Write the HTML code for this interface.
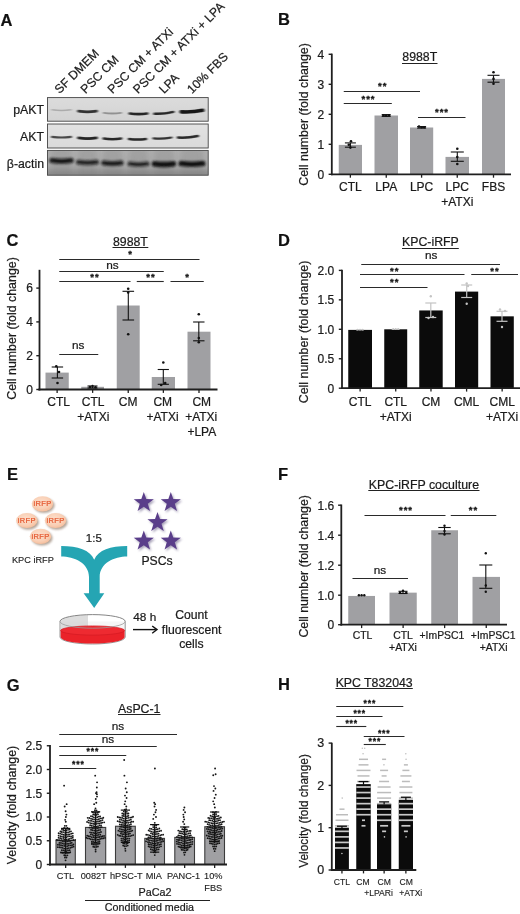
<!DOCTYPE html><html><head><meta charset="utf-8"><title>Figure</title>
<style>html,body{margin:0;padding:0;background:#fff}svg{display:block;filter:blur(0.3px);font-family:"Liberation Sans", sans-serif}text{stroke:#222;stroke-width:0.22px;paint-order:stroke}</style></head><body>
<svg width="520" height="914" viewBox="0 0 520 914">
<defs>
<filter id="b1" filterUnits="userSpaceOnUse" x="40" y="90" width="180" height="95"><feGaussianBlur stdDeviation="0.9 0.55"/></filter>
<filter id="b3" filterUnits="userSpaceOnUse" x="40" y="90" width="180" height="95"><feGaussianBlur stdDeviation="1.2 0.95"/></filter>
<filter id="b2" x="-20%" y="-100%" width="140%" height="300%"><feGaussianBlur stdDeviation="2.5 2.2"/></filter>
<filter id="sh" x="-30%" y="-30%" width="170%" height="170%"><feGaussianBlur stdDeviation="1.0"/></filter>
<filter id="soft"><feGaussianBlur stdDeviation="0.35"/></filter>
<linearGradient id="ga" x1="0" y1="0" x2="0" y2="1"><stop offset="0" stop-color="#dcdcdc"/><stop offset="1" stop-color="#d2d2d2"/></linearGradient>
<linearGradient id="gb" x1="0" y1="0" x2="0" y2="1"><stop offset="0" stop-color="#e2e2e2"/><stop offset="1" stop-color="#dadada"/></linearGradient>
<linearGradient id="gc" x1="0" y1="0" x2="0" y2="1"><stop offset="0" stop-color="#b0b0b0"/><stop offset="0.6" stop-color="#a9a9a9"/><stop offset="1" stop-color="#a0a0a0"/></linearGradient>
<radialGradient id="cell" cx="0.45" cy="0.4" r="0.7"><stop offset="0" stop-color="#fde0cd"/><stop offset="0.6" stop-color="#f9cfb5"/><stop offset="1" stop-color="#f3b691"/></radialGradient>
</defs>
<rect width="520" height="914" fill="#fff"/>
<text x="0.5" y="26" font-size="16.5" text-anchor="start" font-weight="bold" fill="#111">A</text>
<text x="278" y="25" font-size="16.5" text-anchor="start" font-weight="bold" fill="#111">B</text>
<text x="6.5" y="245.8" font-size="16.5" text-anchor="start" font-weight="bold" fill="#111">C</text>
<text x="278" y="245.5" font-size="16.5" text-anchor="start" font-weight="bold" fill="#111">D</text>
<text x="7" y="480" font-size="16.5" text-anchor="start" font-weight="bold" fill="#111">E</text>
<text x="278" y="480" font-size="16.5" text-anchor="start" font-weight="bold" fill="#111">F</text>
<text x="6.8" y="690.6" font-size="16.5" text-anchor="start" font-weight="bold" fill="#111">G</text>
<text x="278" y="689.6" font-size="16.5" text-anchor="start" font-weight="bold" fill="#111">H</text>
<g id="A">
<text transform="translate(59.6,94.3) rotate(-45)" font-size="12.3" fill="#1a1a1a">SF DMEM</text>
<text transform="translate(85.6,94.3) rotate(-45)" font-size="12.3" fill="#1a1a1a">PSC CM</text>
<text transform="translate(112.6,94.3) rotate(-45)" font-size="12.3" fill="#1a1a1a">PSC CM + ATXi</text>
<text transform="translate(138.1,94.3) rotate(-45)" font-size="12.3" fill="#1a1a1a">PSC CM + ATXi + LPA</text>
<text transform="translate(164.1,94.3) rotate(-45)" font-size="12.3" fill="#1a1a1a">LPA</text>
<text transform="translate(192.1,94.3) rotate(-45)" font-size="12.3" fill="#1a1a1a">10% FBS</text>
<text x="44" y="114" font-size="12.3" text-anchor="end" fill="#1a1a1a">pAKT</text>
<text x="44" y="140.5" font-size="12.3" text-anchor="end" fill="#1a1a1a">AKT</text>
<text x="44" y="167.5" font-size="12.3" text-anchor="end" fill="#1a1a1a">β-actin</text>
<clipPath id="cp0"><rect x="47.5" y="97.6" width="160.7" height="23.60000000000001"/></clipPath>
<rect x="47.50" y="97.60" width="160.70" height="23.60" fill="url(#ga)"/>
<g clip-path="url(#cp0)">
<path d="M52.0,109.80 Q61.5,111.20 71.0,109.80" fill="none" stroke="#141414" stroke-width="1.40" stroke-linecap="round" opacity="0.22" filter="url(#b1)"/>
<path d="M78.5,111.10 Q87.5,112.50 96.5,111.10" fill="none" stroke="#141414" stroke-width="2.70" stroke-linecap="round" opacity="0.85" filter="url(#b1)"/>
<path d="M103.7,112.80 Q112.4,114.20 121.1,112.80" fill="none" stroke="#141414" stroke-width="1.80" stroke-linecap="round" opacity="0.35" filter="url(#b1)"/>
<path d="M129.8,113.50 Q138.5,114.90 147.2,113.50" fill="none" stroke="#141414" stroke-width="2.70" stroke-linecap="round" opacity="0.92" filter="url(#b1)"/>
<path d="M154.5,113.70 Q163.9,114.20 173.3,111.90" fill="none" stroke="#141414" stroke-width="2.50" stroke-linecap="round" opacity="0.90" filter="url(#b1)"/>
<path d="M181.2,111.90 Q191.9,112.50 202.7,110.30" fill="none" stroke="#141414" stroke-width="3.60" stroke-linecap="round" opacity="1.00" filter="url(#b1)"/>
</g>
<rect x="47.5" y="97.6" width="160.7" height="23.60000000000001" fill="none" stroke="#444" stroke-width="0.9"/>
<clipPath id="cp1"><rect x="47.5" y="124" width="160.7" height="24"/></clipPath>
<rect x="47.50" y="124.00" width="160.70" height="24.00" fill="url(#gb)"/>
<g clip-path="url(#cp1)">
<path d="M52.0,136.80 Q61.5,138.20 71.0,136.80" fill="none" stroke="#141414" stroke-width="2.20" stroke-linecap="round" opacity="0.75" filter="url(#b1)"/>
<path d="M78.5,137.90 Q87.5,139.30 96.5,137.90" fill="none" stroke="#141414" stroke-width="2.70" stroke-linecap="round" opacity="0.92" filter="url(#b1)"/>
<path d="M103.7,138.50 Q112.4,139.90 121.1,138.50" fill="none" stroke="#141414" stroke-width="2.50" stroke-linecap="round" opacity="0.90" filter="url(#b1)"/>
<path d="M129.0,138.90 Q137.5,140.30 146.0,138.90" fill="none" stroke="#141414" stroke-width="2.50" stroke-linecap="round" opacity="0.90" filter="url(#b1)"/>
<path d="M153.5,138.30 Q162.5,139.30 171.5,137.50" fill="none" stroke="#141414" stroke-width="2.20" stroke-linecap="round" opacity="0.85" filter="url(#b1)"/>
<path d="M178.0,137.60 Q187.9,138.20 197.8,136.00" fill="none" stroke="#141414" stroke-width="2.50" stroke-linecap="round" opacity="0.90" filter="url(#b1)"/>
</g>
<rect x="47.5" y="124" width="160.7" height="24" fill="none" stroke="#444" stroke-width="0.9"/>
<clipPath id="cp2"><rect x="47.5" y="150.4" width="160.7" height="24.799999999999983"/></clipPath>
<rect x="47.50" y="150.40" width="160.70" height="24.80" fill="url(#gc)"/>
<g clip-path="url(#cp2)">
<rect x="51.5" y="148.4" width="20.0" height="28.799999999999983" fill="#808080" opacity="0.28" filter="url(#b2)"/>
<rect x="78" y="148.4" width="19" height="28.799999999999983" fill="#808080" opacity="0.28" filter="url(#b2)"/>
<rect x="103.2" y="148.4" width="18.39999999999999" height="28.799999999999983" fill="#808080" opacity="0.28" filter="url(#b2)"/>
<rect x="129.3" y="148.4" width="18.399999999999977" height="28.799999999999983" fill="#808080" opacity="0.28" filter="url(#b2)"/>
<rect x="154" y="148.4" width="19.80000000000001" height="28.799999999999983" fill="#808080" opacity="0.28" filter="url(#b2)"/>
<rect x="180.7" y="148.4" width="22.5" height="28.799999999999983" fill="#808080" opacity="0.28" filter="url(#b2)"/>
<rect x="42.5" y="170.2" width="170.7" height="9" fill="#707070" opacity="0.4" filter="url(#b2)"/>
<path d="M52.0,160.50 Q61.5,161.90 71.0,160.50" fill="none" stroke="#141414" stroke-width="5.60" stroke-linecap="round" opacity="0.85" filter="url(#b3)"/>
<path d="M53.0,160.50 Q61.5,161.90 70.0,160.50" fill="none" stroke="#101010" stroke-width="2.0" stroke-linecap="round" opacity="0.51" filter="url(#b1)"/>
<path d="M78.5,162.10 Q87.5,163.50 96.5,162.10" fill="none" stroke="#141414" stroke-width="5.20" stroke-linecap="round" opacity="0.72" filter="url(#b3)"/>
<path d="M79.5,162.10 Q87.5,163.50 95.5,162.10" fill="none" stroke="#101010" stroke-width="2.0" stroke-linecap="round" opacity="0.43" filter="url(#b1)"/>
<path d="M103.7,162.90 Q112.4,164.30 121.1,162.90" fill="none" stroke="#141414" stroke-width="5.20" stroke-linecap="round" opacity="0.80" filter="url(#b3)"/>
<path d="M104.7,162.90 Q112.4,164.30 120.1,162.90" fill="none" stroke="#101010" stroke-width="2.0" stroke-linecap="round" opacity="0.48" filter="url(#b1)"/>
<path d="M129.8,163.80 Q138.5,165.20 147.2,163.80" fill="none" stroke="#141414" stroke-width="5.00" stroke-linecap="round" opacity="0.70" filter="url(#b3)"/>
<path d="M130.8,163.80 Q138.5,165.20 146.2,163.80" fill="none" stroke="#101010" stroke-width="2.0" stroke-linecap="round" opacity="0.42" filter="url(#b1)"/>
<path d="M154.5,163.80 Q163.9,165.20 173.3,163.80" fill="none" stroke="#141414" stroke-width="5.80" stroke-linecap="round" opacity="0.95" filter="url(#b3)"/>
<path d="M155.5,163.80 Q163.9,165.20 172.3,163.80" fill="none" stroke="#101010" stroke-width="2.0" stroke-linecap="round" opacity="0.57" filter="url(#b1)"/>
<path d="M181.2,163.50 Q191.9,164.90 202.7,163.50" fill="none" stroke="#141414" stroke-width="5.60" stroke-linecap="round" opacity="0.95" filter="url(#b3)"/>
<path d="M182.2,163.50 Q191.9,164.90 201.7,163.50" fill="none" stroke="#101010" stroke-width="2.0" stroke-linecap="round" opacity="0.57" filter="url(#b1)"/>
</g>
<rect x="47.5" y="150.4" width="160.7" height="24.799999999999983" fill="none" stroke="#444" stroke-width="0.9"/>
</g>
<g id="B">
<text x="419.75" y="61.2" font-size="12.3" text-anchor="middle" fill="#1a1a1a">8988T</text>
<line x1="402" y1="63.5" x2="437.5" y2="63.5" stroke="#222" stroke-width="1.0"/>
<rect x="338.75" y="144.90" width="23.25" height="29.40" fill="#a0a0a3"/>
<rect x="374.50" y="115.50" width="23.50" height="58.80" fill="#a0a0a3"/>
<rect x="410.00" y="127.50" width="23.20" height="46.80" fill="#a0a0a3"/>
<rect x="445.50" y="156.90" width="23.50" height="17.40" fill="#a0a0a3"/>
<rect x="482.00" y="78.90" width="23.00" height="95.40" fill="#a0a0a3"/>
<line x1="331.8" y1="53.60000000000001" x2="331.8" y2="175.20000000000002" stroke="#1f1f1f" stroke-width="1.8"/>
<line x1="328.59999999999997" y1="174.3" x2="331.8" y2="174.3" stroke="#1f1f1f" stroke-width="1.4"/>
<text x="324.1" y="178.60000000000002" font-size="12" text-anchor="end" fill="#1a1a1a">0</text>
<line x1="328.59999999999997" y1="144.3" x2="331.8" y2="144.3" stroke="#1f1f1f" stroke-width="1.4"/>
<text x="324.1" y="148.60000000000002" font-size="12" text-anchor="end" fill="#1a1a1a">1</text>
<line x1="328.59999999999997" y1="114.30000000000001" x2="331.8" y2="114.30000000000001" stroke="#1f1f1f" stroke-width="1.4"/>
<text x="324.1" y="118.60000000000001" font-size="12" text-anchor="end" fill="#1a1a1a">2</text>
<line x1="328.59999999999997" y1="84.30000000000001" x2="331.8" y2="84.30000000000001" stroke="#1f1f1f" stroke-width="1.4"/>
<text x="324.1" y="88.60000000000001" font-size="12" text-anchor="end" fill="#1a1a1a">3</text>
<line x1="328.59999999999997" y1="54.30000000000001" x2="331.8" y2="54.30000000000001" stroke="#1f1f1f" stroke-width="1.4"/>
<text x="324.1" y="58.60000000000001" font-size="12" text-anchor="end" fill="#1a1a1a">4</text>
<line x1="330.90000000000003" y1="174.3" x2="511" y2="174.3" stroke="#1f1f1f" stroke-width="1.8"/>
<line x1="350.375" y1="174.3" x2="350.375" y2="177.70000000000002" stroke="#1f1f1f" stroke-width="1.3"/>
<line x1="386.25" y1="174.3" x2="386.25" y2="177.70000000000002" stroke="#1f1f1f" stroke-width="1.3"/>
<line x1="421.6" y1="174.3" x2="421.6" y2="177.70000000000002" stroke="#1f1f1f" stroke-width="1.3"/>
<line x1="457.25" y1="174.3" x2="457.25" y2="177.70000000000002" stroke="#1f1f1f" stroke-width="1.3"/>
<line x1="493.5" y1="174.3" x2="493.5" y2="177.70000000000002" stroke="#1f1f1f" stroke-width="1.3"/>
<text transform="translate(307.5,114.5) rotate(-90)" font-size="12.4" text-anchor="middle" fill="#1a1a1a">Cell number (fold change)</text>
<line x1="350.4" y1="142.9" x2="350.4" y2="147.2" stroke="#111" stroke-width="1.1"/>
<line x1="344.9" y1="142.9" x2="355.9" y2="142.9" stroke="#111" stroke-width="1.1"/>
<line x1="344.9" y1="147.2" x2="355.9" y2="147.2" stroke="#111" stroke-width="1.1"/>
<circle cx="351.00" cy="141.20" r="1.3" fill="#111"/>
<circle cx="348.80" cy="144.80" r="1.3" fill="#111"/>
<circle cx="350.40" cy="147.60" r="1.3" fill="#111"/>
<line x1="386.2" y1="114.60000000000001" x2="386.2" y2="116.4" stroke="#111" stroke-width="1.1"/>
<line x1="381.7" y1="114.60000000000001" x2="390.7" y2="114.60000000000001" stroke="#111" stroke-width="1.1"/>
<line x1="381.7" y1="116.4" x2="390.7" y2="116.4" stroke="#111" stroke-width="1.1"/>
<circle cx="383.50" cy="115.20" r="1.3" fill="#111"/>
<circle cx="386.20" cy="115.80" r="1.3" fill="#111"/>
<circle cx="389.00" cy="115.20" r="1.3" fill="#111"/>
<line x1="421.6" y1="126.60000000000001" x2="421.6" y2="128.10000000000002" stroke="#111" stroke-width="1.1"/>
<line x1="417.1" y1="126.60000000000001" x2="426.1" y2="126.60000000000001" stroke="#111" stroke-width="1.1"/>
<line x1="417.1" y1="128.10000000000002" x2="426.1" y2="128.10000000000002" stroke="#111" stroke-width="1.1"/>
<circle cx="419.00" cy="126.60" r="1.3" fill="#111"/>
<circle cx="421.60" cy="127.20" r="1.3" fill="#111"/>
<circle cx="424.30" cy="127.20" r="1.3" fill="#111"/>
<line x1="457.3" y1="152" x2="457.3" y2="161.3" stroke="#111" stroke-width="1.1"/>
<line x1="450.8" y1="152" x2="463.8" y2="152" stroke="#111" stroke-width="1.1"/>
<line x1="450.8" y1="161.3" x2="463.8" y2="161.3" stroke="#111" stroke-width="1.1"/>
<circle cx="457.30" cy="148.70" r="1.3" fill="#111"/>
<circle cx="457.30" cy="157.00" r="1.3" fill="#111"/>
<circle cx="457.30" cy="164.00" r="1.3" fill="#111"/>
<line x1="493.5" y1="75.30000000000001" x2="493.5" y2="82.20000000000002" stroke="#111" stroke-width="1.1"/>
<line x1="487.5" y1="75.30000000000001" x2="499.5" y2="75.30000000000001" stroke="#111" stroke-width="1.1"/>
<line x1="487.5" y1="82.20000000000002" x2="499.5" y2="82.20000000000002" stroke="#111" stroke-width="1.1"/>
<circle cx="493.50" cy="72.30" r="1.3" fill="#111"/>
<circle cx="493.50" cy="78.90" r="1.3" fill="#111"/>
<circle cx="493.50" cy="83.70" r="1.3" fill="#111"/>
<line x1="343.75" y1="91.5" x2="420" y2="91.5" stroke="#2a2a2a" stroke-width="1.1"/>
<text x="382.69874999999996" y="89.3" font-size="9.5" text-anchor="middle" font-weight="bold" fill="#111" letter-spacing="1.00" style="stroke-width:0.3px">**</text>
<line x1="343.75" y1="103.5" x2="391.8" y2="103.5" stroke="#2a2a2a" stroke-width="1.1"/>
<text x="368.49875" y="102.1" font-size="9.5" text-anchor="middle" font-weight="bold" fill="#111" letter-spacing="1.00" style="stroke-width:0.3px">***</text>
<line x1="418" y1="117.5" x2="465.5" y2="117.5" stroke="#2a2a2a" stroke-width="1.1"/>
<text x="441.99875" y="115.3" font-size="9.5" text-anchor="middle" font-weight="bold" fill="#111" letter-spacing="1.00" style="stroke-width:0.3px">***</text>
<text x="350.375" y="190.5" font-size="12" text-anchor="middle" fill="#1a1a1a">CTL</text>
<text x="386.25" y="190.5" font-size="12" text-anchor="middle" fill="#1a1a1a">LPA</text>
<text x="421.6" y="190.5" font-size="12" text-anchor="middle" fill="#1a1a1a">LPC</text>
<text x="457.25" y="190.5" font-size="12" text-anchor="middle" fill="#1a1a1a">LPC</text>
<text x="493.5" y="190.5" font-size="12" text-anchor="middle" fill="#1a1a1a">FBS</text>
<text x="457.3" y="206.2" font-size="12" text-anchor="middle" fill="#1a1a1a">+ATXi</text>
</g>
<g id="C">
<text x="130.4" y="245.5" font-size="12.3" text-anchor="middle" fill="#1a1a1a">8988T</text>
<line x1="112.5" y1="247.5" x2="148.3" y2="247.5" stroke="#222" stroke-width="1.0"/>
<rect x="45.50" y="372.60" width="23.25" height="16.90" fill="#a0a0a3"/>
<rect x="81.25" y="386.80" width="22.75" height="2.70" fill="#a0a0a3"/>
<rect x="116.75" y="305.51" width="22.95" height="83.99" fill="#a0a0a3"/>
<rect x="151.75" y="376.99" width="23.25" height="12.51" fill="#a0a0a3"/>
<rect x="187.50" y="331.70" width="23.00" height="57.80" fill="#a0a0a3"/>
<line x1="39.5" y1="269.8" x2="39.5" y2="390.4" stroke="#1f1f1f" stroke-width="1.8"/>
<line x1="36.3" y1="389.5" x2="39.5" y2="389.5" stroke="#1f1f1f" stroke-width="1.4"/>
<text x="32.9" y="393.8" font-size="12" text-anchor="end" fill="#1a1a1a">0</text>
<line x1="36.3" y1="355.7" x2="39.5" y2="355.7" stroke="#1f1f1f" stroke-width="1.4"/>
<text x="32.9" y="360.0" font-size="12" text-anchor="end" fill="#1a1a1a">2</text>
<line x1="36.3" y1="321.9" x2="39.5" y2="321.9" stroke="#1f1f1f" stroke-width="1.4"/>
<text x="32.9" y="326.2" font-size="12" text-anchor="end" fill="#1a1a1a">4</text>
<line x1="36.3" y1="288.1" x2="39.5" y2="288.1" stroke="#1f1f1f" stroke-width="1.4"/>
<text x="32.9" y="292.40000000000003" font-size="12" text-anchor="end" fill="#1a1a1a">6</text>
<line x1="38.4" y1="389.5" x2="217.5" y2="389.5" stroke="#1f1f1f" stroke-width="1.8"/>
<line x1="57.125" y1="389.5" x2="57.125" y2="392.90000000000003" stroke="#1f1f1f" stroke-width="1.3"/>
<line x1="92.625" y1="389.5" x2="92.625" y2="392.90000000000003" stroke="#1f1f1f" stroke-width="1.3"/>
<line x1="128.225" y1="389.5" x2="128.225" y2="392.90000000000003" stroke="#1f1f1f" stroke-width="1.3"/>
<line x1="163.375" y1="389.5" x2="163.375" y2="392.90000000000003" stroke="#1f1f1f" stroke-width="1.3"/>
<line x1="199.0" y1="389.5" x2="199.0" y2="392.90000000000003" stroke="#1f1f1f" stroke-width="1.3"/>
<text transform="translate(16.3,328.5) rotate(-90)" font-size="12.4" text-anchor="middle" fill="#1a1a1a">Cell number (fold change)</text>
<line x1="57.4" y1="367" x2="57.4" y2="378" stroke="#111" stroke-width="1.1"/>
<line x1="51.699999999999996" y1="367" x2="63.1" y2="367" stroke="#111" stroke-width="1.1"/>
<line x1="51.699999999999996" y1="378" x2="63.1" y2="378" stroke="#111" stroke-width="1.1"/>
<circle cx="56.30" cy="366.20" r="1.3" fill="#111"/>
<circle cx="59.00" cy="372.00" r="1.3" fill="#111"/>
<circle cx="57.50" cy="383.00" r="1.3" fill="#111"/>
<line x1="92.5" y1="386" x2="92.5" y2="388" stroke="#111" stroke-width="1.1"/>
<line x1="87.5" y1="386" x2="97.5" y2="386" stroke="#111" stroke-width="1.1"/>
<line x1="87.5" y1="388" x2="97.5" y2="388" stroke="#111" stroke-width="1.1"/>
<circle cx="90.00" cy="387.00" r="1.2" fill="#111"/>
<circle cx="92.50" cy="386.00" r="1.2" fill="#111"/>
<circle cx="95.50" cy="387.30" r="1.2" fill="#111"/>
<line x1="128.3" y1="291.3" x2="128.3" y2="320" stroke="#111" stroke-width="1.1"/>
<line x1="122.50000000000001" y1="291.3" x2="134.10000000000002" y2="291.3" stroke="#111" stroke-width="1.1"/>
<line x1="122.50000000000001" y1="320" x2="134.10000000000002" y2="320" stroke="#111" stroke-width="1.1"/>
<circle cx="128.20" cy="288.70" r="1.3" fill="#111"/>
<circle cx="128.20" cy="292.50" r="1.3" fill="#111"/>
<circle cx="128.20" cy="334.30" r="1.3" fill="#111"/>
<line x1="163.3" y1="369.5" x2="163.3" y2="384.3" stroke="#111" stroke-width="1.1"/>
<line x1="157.70000000000002" y1="369.5" x2="168.9" y2="369.5" stroke="#111" stroke-width="1.1"/>
<line x1="157.70000000000002" y1="384.3" x2="168.9" y2="384.3" stroke="#111" stroke-width="1.1"/>
<circle cx="163.30" cy="362.50" r="1.3" fill="#111"/>
<circle cx="161.20" cy="385.00" r="1.3" fill="#111"/>
<circle cx="165.20" cy="383.00" r="1.3" fill="#111"/>
<line x1="198.8" y1="322" x2="198.8" y2="340.8" stroke="#111" stroke-width="1.1"/>
<line x1="193.10000000000002" y1="322" x2="204.5" y2="322" stroke="#111" stroke-width="1.1"/>
<line x1="193.10000000000002" y1="340.8" x2="204.5" y2="340.8" stroke="#111" stroke-width="1.1"/>
<circle cx="198.80" cy="314.20" r="1.3" fill="#111"/>
<circle cx="198.80" cy="338.00" r="1.3" fill="#111"/>
<circle cx="198.80" cy="342.30" r="1.3" fill="#111"/>
<line x1="59.25" y1="259.5" x2="199.5" y2="259.5" stroke="#2a2a2a" stroke-width="1.1"/>
<text x="130.49875" y="257.3" font-size="9.5" text-anchor="middle" font-weight="bold" fill="#111" letter-spacing="1.00" style="stroke-width:0.3px">*</text>
<line x1="59.25" y1="271.5" x2="163.75" y2="271.5" stroke="#2a2a2a" stroke-width="1.1"/>
<text x="112.5" y="268.5" font-size="11.8" text-anchor="middle" fill="#1a1a1a">ns</text>
<line x1="59.25" y1="281.5" x2="130.5" y2="281.5" stroke="#2a2a2a" stroke-width="1.1"/>
<text x="94.99875" y="279.90000000000003" font-size="9.5" text-anchor="middle" font-weight="bold" fill="#111" letter-spacing="1.00" style="stroke-width:0.3px">**</text>
<line x1="136.75" y1="281.5" x2="163.75" y2="281.5" stroke="#2a2a2a" stroke-width="1.1"/>
<text x="150.99875" y="279.90000000000003" font-size="9.5" text-anchor="middle" font-weight="bold" fill="#111" letter-spacing="1.00" style="stroke-width:0.3px">**</text>
<line x1="170.5" y1="281.5" x2="203.75" y2="281.5" stroke="#2a2a2a" stroke-width="1.1"/>
<text x="187.49875" y="279.90000000000003" font-size="9.5" text-anchor="middle" font-weight="bold" fill="#111" letter-spacing="1.00" style="stroke-width:0.3px">*</text>
<line x1="59.25" y1="354.5" x2="98.25" y2="354.5" stroke="#2a2a2a" stroke-width="1.1"/>
<text x="78.3" y="349.3" font-size="11.8" text-anchor="middle" fill="#1a1a1a">ns</text>
<text x="58.7" y="406.3" font-size="12" text-anchor="middle" fill="#1a1a1a">CTL</text>
<text x="93.1" y="406.3" font-size="12" text-anchor="middle" fill="#1a1a1a">CTL</text>
<text x="128.2" y="406.3" font-size="12" text-anchor="middle" fill="#1a1a1a">CM</text>
<text x="162.8" y="406.3" font-size="12" text-anchor="middle" fill="#1a1a1a">CM</text>
<text x="201.8" y="406.3" font-size="12" text-anchor="middle" fill="#1a1a1a">CM</text>
<text x="93.3" y="421.2" font-size="12" text-anchor="middle" fill="#1a1a1a">+ATXi</text>
<text x="162.5" y="421.2" font-size="12" text-anchor="middle" fill="#1a1a1a">+ATXi</text>
<text x="201.2" y="421.2" font-size="12" text-anchor="middle" fill="#1a1a1a">+ATXi</text>
<text x="201.8" y="435.7" font-size="12" text-anchor="middle" fill="#1a1a1a">+LPA</text>
</g>
<g id="D">
<text x="430.4" y="246.2" font-size="12.3" text-anchor="middle" fill="#1a1a1a">KPC-iRFP</text>
<line x1="402" y1="248.5" x2="458.8" y2="248.5" stroke="#222" stroke-width="1.0"/>
<rect x="348.25" y="329.89" width="23.75" height="58.31" fill="#0b0b0b"/>
<rect x="384.25" y="329.30" width="22.95" height="58.90" fill="#0b0b0b"/>
<rect x="419.25" y="310.45" width="23.45" height="77.75" fill="#0b0b0b"/>
<rect x="455.00" y="291.60" width="23.20" height="96.60" fill="#0b0b0b"/>
<rect x="490.50" y="316.34" width="23.30" height="71.86" fill="#0b0b0b"/>
<line x1="342" y1="269.7" x2="342" y2="389.09999999999997" stroke="#1f1f1f" stroke-width="1.8"/>
<line x1="338.79999999999995" y1="388.2" x2="342" y2="388.2" stroke="#1f1f1f" stroke-width="1.4"/>
<text x="334.3" y="392.5" font-size="12" text-anchor="end" fill="#1a1a1a">0</text>
<line x1="338.79999999999995" y1="358.75" x2="342" y2="358.75" stroke="#1f1f1f" stroke-width="1.4"/>
<text x="334.3" y="363.05" font-size="12" text-anchor="end" fill="#1a1a1a">0.5</text>
<line x1="338.79999999999995" y1="329.3" x2="342" y2="329.3" stroke="#1f1f1f" stroke-width="1.4"/>
<text x="334.3" y="333.6" font-size="12" text-anchor="end" fill="#1a1a1a">1.0</text>
<line x1="338.79999999999995" y1="299.85" x2="342" y2="299.85" stroke="#1f1f1f" stroke-width="1.4"/>
<text x="334.3" y="304.15000000000003" font-size="12" text-anchor="end" fill="#1a1a1a">1.5</text>
<line x1="338.79999999999995" y1="270.4" x2="342" y2="270.4" stroke="#1f1f1f" stroke-width="1.4"/>
<text x="334.3" y="274.7" font-size="12" text-anchor="end" fill="#1a1a1a">2.0</text>
<line x1="341.1" y1="388.2" x2="520" y2="388.2" stroke="#1f1f1f" stroke-width="1.8"/>
<line x1="360.125" y1="388.2" x2="360.125" y2="391.6" stroke="#1f1f1f" stroke-width="1.3"/>
<line x1="395.725" y1="388.2" x2="395.725" y2="391.6" stroke="#1f1f1f" stroke-width="1.3"/>
<line x1="430.975" y1="388.2" x2="430.975" y2="391.6" stroke="#1f1f1f" stroke-width="1.3"/>
<line x1="466.6" y1="388.2" x2="466.6" y2="391.6" stroke="#1f1f1f" stroke-width="1.3"/>
<line x1="502.15" y1="388.2" x2="502.15" y2="391.6" stroke="#1f1f1f" stroke-width="1.3"/>
<text transform="translate(308.3,332) rotate(-90)" font-size="12.4" text-anchor="middle" fill="#1a1a1a">Cell number (fold change)</text>
<line x1="356" y1="329.889" x2="364" y2="329.889" stroke="#c4c4c4" stroke-width="1"/>
<circle cx="357.50" cy="329.59" r="0.9" fill="#c4c4c4"/>
<circle cx="360.00" cy="329.59" r="0.9" fill="#c4c4c4"/>
<circle cx="362.50" cy="329.59" r="0.9" fill="#c4c4c4"/>
<line x1="391.7" y1="329.3" x2="399.7" y2="329.3" stroke="#c4c4c4" stroke-width="1"/>
<circle cx="393.20" cy="329.00" r="0.9" fill="#c4c4c4"/>
<circle cx="395.70" cy="329.00" r="0.9" fill="#c4c4c4"/>
<circle cx="398.20" cy="329.00" r="0.9" fill="#c4c4c4"/>
<line x1="430.8" y1="303" x2="430.8" y2="317.5" stroke="#c4c4c4" stroke-width="1.2"/>
<line x1="425.3" y1="303" x2="436.3" y2="303" stroke="#c4c4c4" stroke-width="1.2"/>
<line x1="425.3" y1="317.5" x2="436.3" y2="317.5" stroke="#c4c4c4" stroke-width="1.2"/>
<circle cx="430.80" cy="296.20" r="1.2" fill="#c4c4c4"/>
<circle cx="428.50" cy="318.00" r="1.2" fill="#c4c4c4"/>
<circle cx="433.00" cy="317.00" r="1.2" fill="#c4c4c4"/>
<line x1="466.7" y1="285" x2="466.7" y2="297.5" stroke="#c4c4c4" stroke-width="1.2"/>
<line x1="461.2" y1="285" x2="472.2" y2="285" stroke="#c4c4c4" stroke-width="1.2"/>
<line x1="461.2" y1="297.5" x2="472.2" y2="297.5" stroke="#c4c4c4" stroke-width="1.2"/>
<circle cx="466.70" cy="283.50" r="1.2" fill="#c4c4c4"/>
<circle cx="468.00" cy="286.00" r="1.2" fill="#c4c4c4"/>
<circle cx="466.70" cy="303.80" r="1.2" fill="#c4c4c4"/>
<line x1="502" y1="311.3" x2="502" y2="321.3" stroke="#c4c4c4" stroke-width="1.2"/>
<line x1="496.5" y1="311.3" x2="507.5" y2="311.3" stroke="#c4c4c4" stroke-width="1.2"/>
<line x1="496.5" y1="321.3" x2="507.5" y2="321.3" stroke="#c4c4c4" stroke-width="1.2"/>
<circle cx="500.00" cy="309.50" r="1.2" fill="#c4c4c4"/>
<circle cx="505.00" cy="311.00" r="1.2" fill="#c4c4c4"/>
<circle cx="502.00" cy="327.00" r="1.2" fill="#c4c4c4"/>
<line x1="361.25" y1="264.5" x2="500" y2="264.5" stroke="#2a2a2a" stroke-width="1.1"/>
<text x="431.3" y="258.8" font-size="11.8" text-anchor="middle" fill="#1a1a1a">ns</text>
<line x1="360" y1="274.5" x2="464.5" y2="274.5" stroke="#2a2a2a" stroke-width="1.1"/>
<text x="394.79875" y="273.7" font-size="9.5" text-anchor="middle" font-weight="bold" fill="#111" letter-spacing="1.00" style="stroke-width:0.3px">**</text>
<line x1="471.25" y1="274.5" x2="518" y2="274.5" stroke="#2a2a2a" stroke-width="1.1"/>
<text x="494.99875" y="273.7" font-size="9.5" text-anchor="middle" font-weight="bold" fill="#111" letter-spacing="1.00" style="stroke-width:0.3px">**</text>
<line x1="360" y1="287.5" x2="427.5" y2="287.5" stroke="#2a2a2a" stroke-width="1.1"/>
<text x="394.79875" y="285.3" font-size="9.5" text-anchor="middle" font-weight="bold" fill="#111" letter-spacing="1.00" style="stroke-width:0.3px">**</text>
<text x="360.125" y="406.3" font-size="12" text-anchor="middle" fill="#1a1a1a">CTL</text>
<text x="395.725" y="406.3" font-size="12" text-anchor="middle" fill="#1a1a1a">CTL</text>
<text x="430.975" y="406.3" font-size="12" text-anchor="middle" fill="#1a1a1a">CM</text>
<text x="466.6" y="406.3" font-size="12" text-anchor="middle" fill="#1a1a1a">CML</text>
<text x="502.15" y="406.3" font-size="12" text-anchor="middle" fill="#1a1a1a">CML</text>
<text x="395.7" y="420.8" font-size="12" text-anchor="middle" fill="#1a1a1a">+ATXi</text>
<text x="502" y="420.8" font-size="12" text-anchor="middle" fill="#1a1a1a">+ATXi</text>
</g>
<g id="E">
<ellipse cx="44.0" cy="505.5" rx="10.6" ry="7.6" fill="#9c8878" opacity="0.75" filter="url(#sh)"/>
<ellipse cx="42.5" cy="503.8" rx="10.7" ry="7.6" fill="url(#cell)"/>
<text x="42.5" y="506.40000000000003" font-size="7.5" text-anchor="middle" fill="#e4572e" style="stroke:#e4572e;stroke-width:0.22px" letter-spacing="0.3">iRFP</text>
<ellipse cx="28.3" cy="522.2" rx="10.6" ry="7.6" fill="#9c8878" opacity="0.75" filter="url(#sh)"/>
<ellipse cx="26.8" cy="520.5" rx="10.7" ry="7.6" fill="url(#cell)"/>
<text x="26.8" y="523.1" font-size="7.5" text-anchor="middle" fill="#e4572e" style="stroke:#e4572e;stroke-width:0.22px" letter-spacing="0.3">iRFP</text>
<ellipse cx="57.0" cy="522.2" rx="10.6" ry="7.6" fill="#9c8878" opacity="0.75" filter="url(#sh)"/>
<ellipse cx="55.5" cy="520.5" rx="10.7" ry="7.6" fill="url(#cell)"/>
<text x="55.5" y="523.1" font-size="7.5" text-anchor="middle" fill="#e4572e" style="stroke:#e4572e;stroke-width:0.22px" letter-spacing="0.3">iRFP</text>
<ellipse cx="42.0" cy="538.0" rx="10.6" ry="7.6" fill="#9c8878" opacity="0.75" filter="url(#sh)"/>
<ellipse cx="40.5" cy="536.3" rx="10.7" ry="7.6" fill="url(#cell)"/>
<text x="40.5" y="538.9" font-size="7.5" text-anchor="middle" fill="#e4572e" style="stroke:#e4572e;stroke-width:0.22px" letter-spacing="0.3">iRFP</text>
<text x="32.9" y="563" font-size="9.2" text-anchor="middle" fill="#1a1a1a" style="stroke-width:0.12px">KPC iRFP</text>
<text x="93.8" y="542" font-size="11.5" text-anchor="middle" fill="#1a1a1a">1:5</text>
<path d="M61.2,546.1 C78,546.1 90,550 94.2,559.7 C98.4,550 110.4,546.1 127.2,546.1 L127.2,556.5 C114.4,556.5 99.7,563 99.7,577 L99.7,593.3 L104.3,593.3 L94.2,607.9 L83.6,593.3 L89,593.3 L89,577 C89,563 74,556.5 61.2,556.5 Z" fill="#25a5b3"/>
<polygon points="145.10,493.50 147.57,500.70 155.18,500.82 149.09,505.40 151.33,512.68 145.10,508.30 138.87,512.68 141.11,505.40 135.02,500.82 142.63,500.70" fill="#8a82a0" opacity="0.75" filter="url(#sh)"/>
<polygon points="143.80,491.90 146.27,499.10 153.88,499.22 147.79,503.80 150.03,511.08 143.80,506.70 137.57,511.08 139.81,503.80 133.72,499.22 141.33,499.10" fill="#5a3e8a"/>
<polygon points="172.10,493.50 174.57,500.70 182.18,500.82 176.09,505.40 178.33,512.68 172.10,508.30 165.87,512.68 168.11,505.40 162.02,500.82 169.63,500.70" fill="#8a82a0" opacity="0.75" filter="url(#sh)"/>
<polygon points="170.80,491.90 173.27,499.10 180.88,499.22 174.79,503.80 177.03,511.08 170.80,506.70 164.57,511.08 166.81,503.80 160.72,499.22 168.33,499.10" fill="#5a3e8a"/>
<polygon points="158.80,513.50 161.27,520.70 168.88,520.82 162.79,525.40 165.03,532.68 158.80,528.30 152.57,532.68 154.81,525.40 148.72,520.82 156.33,520.70" fill="#8a82a0" opacity="0.75" filter="url(#sh)"/>
<polygon points="157.50,511.90 159.97,519.10 167.58,519.22 161.49,523.80 163.73,531.08 157.50,526.70 151.27,531.08 153.51,523.80 147.42,519.22 155.03,519.10" fill="#5a3e8a"/>
<polygon points="145.10,532.00 147.57,539.20 155.18,539.32 149.09,543.90 151.33,551.18 145.10,546.80 138.87,551.18 141.11,543.90 135.02,539.32 142.63,539.20" fill="#8a82a0" opacity="0.75" filter="url(#sh)"/>
<polygon points="143.80,530.40 146.27,537.60 153.88,537.72 147.79,542.30 150.03,549.58 143.80,545.20 137.57,549.58 139.81,542.30 133.72,537.72 141.33,537.60" fill="#5a3e8a"/>
<polygon points="172.10,532.00 174.57,539.20 182.18,539.32 176.09,543.90 178.33,551.18 172.10,546.80 165.87,551.18 168.11,543.90 162.02,539.32 169.63,539.20" fill="#8a82a0" opacity="0.75" filter="url(#sh)"/>
<polygon points="170.80,530.40 173.27,537.60 180.88,537.72 174.79,542.30 177.03,549.58 170.80,545.20 164.57,549.58 166.81,542.30 160.72,537.72 168.33,537.60" fill="#5a3e8a"/>
<text x="157" y="565" font-size="12.2" text-anchor="middle" fill="#1a1a1a">PSCs</text>
<g>
<path d="M60,621.4 L60,637 A32.6,7 0 0 0 125.2,637 L125.2,621.4" fill="#f6f6f6" stroke="#8a8a8a" stroke-width="0.9"/>
<path d="M60.5,622 A32.6,6.8 0 0 1 88,614.9 L88,627.5 L60.5,631 Z" fill="#d2d2d2" opacity="0.75"/>
<path d="M60.6,630.5 L60.6,637 A32,6.6 0 0 0 124.6,637 L124.6,630.5 Z" fill="#ea2229"/>
<ellipse cx="92.6" cy="630.5" rx="32" ry="4.6" fill="#ee2a31" stroke="#d41a22" stroke-width="0.7"/>
<path d="M60,621.4 A32.6,6.8 0 0 1 125.2,621.4" fill="none" stroke="#777" stroke-width="0.9"/>
<path d="M60,621.4 A32.6,6.8 0 0 0 125.2,621.4" fill="none" stroke="#9a9a9a" stroke-width="0.8"/>
</g>
<text x="144.8" y="621.2" font-size="11.8" text-anchor="middle" fill="#1a1a1a">48 h</text>
<line x1="133" y1="629.6" x2="155.8" y2="629.6" stroke="#111" stroke-width="1.4"/>
<path d="M152.2,626 L157,629.6 L152.2,633.2" fill="none" stroke="#111" stroke-width="1.4"/>
<text x="191.4" y="618.6" font-size="12.2" text-anchor="middle" fill="#1a1a1a">Count</text>
<text x="191.6" y="633.8" font-size="12.2" text-anchor="middle" fill="#1a1a1a">fluorescent</text>
<text x="191.4" y="648.2" font-size="12.2" text-anchor="middle" fill="#1a1a1a">cells</text>
</g>
<g id="F">
<text x="423.9" y="488.7" font-size="12.35" text-anchor="middle" fill="#1a1a1a">KPC-iRFP coculture</text>
<line x1="368.3" y1="490.5" x2="479.5" y2="490.5" stroke="#222" stroke-width="1.0"/>
<rect x="348.25" y="595.95" width="26.75" height="28.75" fill="#a0a0a3"/>
<rect x="389.50" y="592.65" width="27.25" height="32.05" fill="#a0a0a3"/>
<rect x="431.25" y="530.25" width="26.75" height="94.45" fill="#a0a0a3"/>
<rect x="472.50" y="576.90" width="27.50" height="47.80" fill="#a0a0a3"/>
<line x1="341.3" y1="504.50000000000006" x2="341.3" y2="625.6" stroke="#1f1f1f" stroke-width="1.8"/>
<line x1="338.09999999999997" y1="624.7" x2="341.3" y2="624.7" stroke="#1f1f1f" stroke-width="1.4"/>
<text x="334.3" y="629.0" font-size="12" text-anchor="end" fill="#1a1a1a">0</text>
<line x1="338.09999999999997" y1="595.2" x2="341.3" y2="595.2" stroke="#1f1f1f" stroke-width="1.4"/>
<text x="334.3" y="599.5" font-size="12" text-anchor="end" fill="#1a1a1a">1.0</text>
<line x1="338.09999999999997" y1="565.2" x2="341.3" y2="565.2" stroke="#1f1f1f" stroke-width="1.4"/>
<text x="334.3" y="569.5" font-size="12" text-anchor="end" fill="#1a1a1a">1.2</text>
<line x1="338.09999999999997" y1="535.2" x2="341.3" y2="535.2" stroke="#1f1f1f" stroke-width="1.4"/>
<text x="334.3" y="539.5" font-size="12" text-anchor="end" fill="#1a1a1a">1.4</text>
<line x1="338.09999999999997" y1="505.20000000000005" x2="341.3" y2="505.20000000000005" stroke="#1f1f1f" stroke-width="1.4"/>
<text x="334.3" y="509.50000000000006" font-size="12" text-anchor="end" fill="#1a1a1a">1.6</text>
<line x1="340.40000000000003" y1="624.7" x2="507" y2="624.7" stroke="#1f1f1f" stroke-width="1.8"/>
<line x1="361.625" y1="624.7" x2="361.625" y2="628.1" stroke="#1f1f1f" stroke-width="1.3"/>
<line x1="403.125" y1="624.7" x2="403.125" y2="628.1" stroke="#1f1f1f" stroke-width="1.3"/>
<line x1="444.625" y1="624.7" x2="444.625" y2="628.1" stroke="#1f1f1f" stroke-width="1.3"/>
<line x1="486.25" y1="624.7" x2="486.25" y2="628.1" stroke="#1f1f1f" stroke-width="1.3"/>
<text transform="translate(308.3,566.3) rotate(-90)" font-size="12.4" text-anchor="middle" fill="#1a1a1a">Cell number (fold change)</text>
<circle cx="358.90" cy="595.30" r="1.2" fill="#111"/>
<circle cx="361.60" cy="595.30" r="1.2" fill="#111"/>
<circle cx="364.30" cy="595.30" r="1.2" fill="#111"/>
<line x1="403" y1="591.3" x2="403" y2="593.5" stroke="#111" stroke-width="1.1"/>
<line x1="398.5" y1="591.3" x2="407.5" y2="591.3" stroke="#111" stroke-width="1.1"/>
<line x1="398.5" y1="593.5" x2="407.5" y2="593.5" stroke="#111" stroke-width="1.1"/>
<circle cx="400.00" cy="592.70" r="1.2" fill="#111"/>
<circle cx="403.00" cy="590.70" r="1.2" fill="#111"/>
<circle cx="406.30" cy="592.70" r="1.2" fill="#111"/>
<line x1="444.5" y1="527.5" x2="444.5" y2="533.8" stroke="#111" stroke-width="1.1"/>
<line x1="438.3" y1="527.5" x2="450.7" y2="527.5" stroke="#111" stroke-width="1.1"/>
<line x1="438.3" y1="533.8" x2="450.7" y2="533.8" stroke="#111" stroke-width="1.1"/>
<circle cx="444.50" cy="525.70" r="1.2" fill="#111"/>
<circle cx="444.50" cy="531.00" r="1.2" fill="#111"/>
<circle cx="444.50" cy="534.50" r="1.2" fill="#111"/>
<line x1="485.8" y1="565" x2="485.8" y2="588.3" stroke="#111" stroke-width="1.1"/>
<line x1="479.3" y1="565" x2="492.3" y2="565" stroke="#111" stroke-width="1.1"/>
<line x1="479.3" y1="588.3" x2="492.3" y2="588.3" stroke="#111" stroke-width="1.1"/>
<circle cx="485.80" cy="553.30" r="1.2" fill="#111"/>
<circle cx="485.80" cy="585.50" r="1.2" fill="#111"/>
<circle cx="485.80" cy="591.80" r="1.2" fill="#111"/>
<line x1="364.5" y1="515.5" x2="445.5" y2="515.5" stroke="#2a2a2a" stroke-width="1.1"/>
<text x="405.99875" y="513.3" font-size="9.5" text-anchor="middle" font-weight="bold" fill="#111" letter-spacing="1.00" style="stroke-width:0.3px">***</text>
<line x1="450.75" y1="515.5" x2="496.3" y2="515.5" stroke="#2a2a2a" stroke-width="1.1"/>
<text x="473.49875" y="513.3" font-size="9.5" text-anchor="middle" font-weight="bold" fill="#111" letter-spacing="1.00" style="stroke-width:0.3px">**</text>
<line x1="352.5" y1="578.5" x2="408" y2="578.5" stroke="#2a2a2a" stroke-width="1.1"/>
<text x="380" y="574.1" font-size="11.8" text-anchor="middle" fill="#1a1a1a">ns</text>
<text x="362.5" y="638.7" font-size="10.4" text-anchor="middle" fill="#1a1a1a">CTL</text>
<text x="403" y="638.7" font-size="10.4" text-anchor="middle" fill="#1a1a1a">CTL</text>
<text x="441.9" y="638.7" font-size="10.4" text-anchor="middle" fill="#1a1a1a">+ImPSC1</text>
<text x="493.2" y="638.7" font-size="10.4" text-anchor="middle" fill="#1a1a1a">+ImPSC1</text>
<text x="403" y="651.2" font-size="10.4" text-anchor="middle" fill="#1a1a1a">+ATXi</text>
<text x="493.6" y="651.2" font-size="10.4" text-anchor="middle" fill="#1a1a1a">+ATXi</text>
</g>
<g id="G">
<text x="139.25" y="712.5" font-size="12.3" text-anchor="middle" fill="#1a1a1a">AsPC-1</text>
<line x1="118" y1="714.5" x2="160.5" y2="714.5" stroke="#222" stroke-width="1.0"/>
<rect x="56.00" y="840.51" width="19.30" height="23.99" fill="#a0a0a3" stroke="#3c3c3c" stroke-width="1.1"/>
<rect x="85.50" y="827.45" width="20.20" height="37.05" fill="#a0a0a3" stroke="#3c3c3c" stroke-width="1.1"/>
<rect x="115.50" y="826.26" width="19.80" height="38.24" fill="#a0a0a3" stroke="#3c3c3c" stroke-width="1.1"/>
<rect x="144.80" y="838.38" width="19.70" height="26.12" fill="#a0a0a3" stroke="#3c3c3c" stroke-width="1.1"/>
<rect x="174.80" y="837.42" width="19.70" height="27.08" fill="#a0a0a3" stroke="#3c3c3c" stroke-width="1.1"/>
<rect x="204.80" y="826.74" width="19.70" height="37.76" fill="#a0a0a3" stroke="#3c3c3c" stroke-width="1.1"/>
<line x1="50" y1="745.05" x2="50" y2="865.4" stroke="#1f1f1f" stroke-width="1.8"/>
<line x1="46.8" y1="864.5" x2="50" y2="864.5" stroke="#1f1f1f" stroke-width="1.4"/>
<text x="42.3" y="868.8" font-size="12" text-anchor="end" fill="#1a1a1a">0</text>
<line x1="46.8" y1="840.75" x2="50" y2="840.75" stroke="#1f1f1f" stroke-width="1.4"/>
<text x="42.3" y="845.05" font-size="12" text-anchor="end" fill="#1a1a1a">0.5</text>
<line x1="46.8" y1="817.0" x2="50" y2="817.0" stroke="#1f1f1f" stroke-width="1.4"/>
<text x="42.3" y="821.3" font-size="12" text-anchor="end" fill="#1a1a1a">1.0</text>
<line x1="46.8" y1="793.25" x2="50" y2="793.25" stroke="#1f1f1f" stroke-width="1.4"/>
<text x="42.3" y="797.55" font-size="12" text-anchor="end" fill="#1a1a1a">1.5</text>
<line x1="46.8" y1="769.5" x2="50" y2="769.5" stroke="#1f1f1f" stroke-width="1.4"/>
<text x="42.3" y="773.8" font-size="12" text-anchor="end" fill="#1a1a1a">2.0</text>
<line x1="46.8" y1="745.75" x2="50" y2="745.75" stroke="#1f1f1f" stroke-width="1.4"/>
<text x="42.3" y="750.05" font-size="12" text-anchor="end" fill="#1a1a1a">2.5</text>
<line x1="49.1" y1="864.5" x2="227" y2="864.5" stroke="#1f1f1f" stroke-width="1.8"/>
<line x1="65.65" y1="864.5" x2="65.65" y2="867.9" stroke="#1f1f1f" stroke-width="1.3"/>
<line x1="95.6" y1="864.5" x2="95.6" y2="867.9" stroke="#1f1f1f" stroke-width="1.3"/>
<line x1="125.4" y1="864.5" x2="125.4" y2="867.9" stroke="#1f1f1f" stroke-width="1.3"/>
<line x1="154.65" y1="864.5" x2="154.65" y2="867.9" stroke="#1f1f1f" stroke-width="1.3"/>
<line x1="184.65" y1="864.5" x2="184.65" y2="867.9" stroke="#1f1f1f" stroke-width="1.3"/>
<line x1="214.65" y1="864.5" x2="214.65" y2="867.9" stroke="#1f1f1f" stroke-width="1.3"/>
<text transform="translate(16.4,805) rotate(-90)" font-size="12.4" text-anchor="middle" fill="#1a1a1a">Velocity (fold change)</text>
<circle cx="65.57" cy="860.30" r="0.92" fill="#161616"/>
<circle cx="64.93" cy="857.53" r="0.92" fill="#161616"/>
<circle cx="66.46" cy="857.52" r="0.92" fill="#161616"/>
<circle cx="64.25" cy="855.24" r="0.92" fill="#161616"/>
<circle cx="65.62" cy="855.48" r="0.92" fill="#161616"/>
<circle cx="67.38" cy="855.34" r="0.92" fill="#161616"/>
<circle cx="60.91" cy="852.46" r="0.92" fill="#161616"/>
<circle cx="62.54" cy="852.79" r="0.92" fill="#161616"/>
<circle cx="64.04" cy="852.82" r="0.92" fill="#161616"/>
<circle cx="65.79" cy="853.29" r="0.92" fill="#161616"/>
<circle cx="67.27" cy="852.84" r="0.92" fill="#161616"/>
<circle cx="68.76" cy="852.68" r="0.92" fill="#161616"/>
<circle cx="70.22" cy="852.25" r="0.92" fill="#161616"/>
<circle cx="61.80" cy="850.23" r="0.92" fill="#161616"/>
<circle cx="63.40" cy="850.43" r="0.92" fill="#161616"/>
<circle cx="64.86" cy="850.89" r="0.92" fill="#161616"/>
<circle cx="66.53" cy="851.06" r="0.92" fill="#161616"/>
<circle cx="68.05" cy="850.40" r="0.92" fill="#161616"/>
<circle cx="69.69" cy="850.15" r="0.92" fill="#161616"/>
<circle cx="57.84" cy="847.13" r="0.92" fill="#161616"/>
<circle cx="59.58" cy="847.23" r="0.92" fill="#161616"/>
<circle cx="61.05" cy="847.49" r="0.92" fill="#161616"/>
<circle cx="62.65" cy="847.82" r="0.92" fill="#161616"/>
<circle cx="64.17" cy="848.57" r="0.92" fill="#161616"/>
<circle cx="65.64" cy="849.01" r="0.92" fill="#161616"/>
<circle cx="67.28" cy="848.54" r="0.92" fill="#161616"/>
<circle cx="68.79" cy="848.09" r="0.92" fill="#161616"/>
<circle cx="70.48" cy="847.83" r="0.92" fill="#161616"/>
<circle cx="71.95" cy="847.26" r="0.92" fill="#161616"/>
<circle cx="73.51" cy="846.67" r="0.92" fill="#161616"/>
<circle cx="57.89" cy="844.77" r="0.92" fill="#161616"/>
<circle cx="59.55" cy="844.94" r="0.92" fill="#161616"/>
<circle cx="61.04" cy="845.14" r="0.92" fill="#161616"/>
<circle cx="62.49" cy="845.60" r="0.92" fill="#161616"/>
<circle cx="64.23" cy="845.94" r="0.92" fill="#161616"/>
<circle cx="65.62" cy="846.36" r="0.92" fill="#161616"/>
<circle cx="67.36" cy="846.10" r="0.92" fill="#161616"/>
<circle cx="68.78" cy="845.56" r="0.92" fill="#161616"/>
<circle cx="70.47" cy="845.41" r="0.92" fill="#161616"/>
<circle cx="72.01" cy="845.15" r="0.92" fill="#161616"/>
<circle cx="73.42" cy="844.50" r="0.92" fill="#161616"/>
<circle cx="59.40" cy="842.94" r="0.92" fill="#161616"/>
<circle cx="60.97" cy="842.94" r="0.92" fill="#161616"/>
<circle cx="62.60" cy="843.36" r="0.92" fill="#161616"/>
<circle cx="64.08" cy="843.92" r="0.92" fill="#161616"/>
<circle cx="65.68" cy="844.02" r="0.92" fill="#161616"/>
<circle cx="67.27" cy="843.81" r="0.92" fill="#161616"/>
<circle cx="68.86" cy="843.72" r="0.92" fill="#161616"/>
<circle cx="70.39" cy="843.11" r="0.92" fill="#161616"/>
<circle cx="71.77" cy="842.80" r="0.92" fill="#161616"/>
<circle cx="56.49" cy="839.85" r="0.92" fill="#161616"/>
<circle cx="57.92" cy="839.99" r="0.92" fill="#161616"/>
<circle cx="59.54" cy="840.24" r="0.92" fill="#161616"/>
<circle cx="60.92" cy="840.60" r="0.92" fill="#161616"/>
<circle cx="62.50" cy="841.06" r="0.92" fill="#161616"/>
<circle cx="64.02" cy="841.52" r="0.92" fill="#161616"/>
<circle cx="65.60" cy="841.74" r="0.92" fill="#161616"/>
<circle cx="67.21" cy="841.40" r="0.92" fill="#161616"/>
<circle cx="68.91" cy="840.97" r="0.92" fill="#161616"/>
<circle cx="70.24" cy="840.88" r="0.92" fill="#161616"/>
<circle cx="71.85" cy="840.31" r="0.92" fill="#161616"/>
<circle cx="73.34" cy="839.98" r="0.92" fill="#161616"/>
<circle cx="75.15" cy="839.83" r="0.92" fill="#161616"/>
<circle cx="58.61" cy="837.75" r="0.92" fill="#161616"/>
<circle cx="60.20" cy="838.27" r="0.92" fill="#161616"/>
<circle cx="61.72" cy="838.90" r="0.92" fill="#161616"/>
<circle cx="63.51" cy="838.89" r="0.92" fill="#161616"/>
<circle cx="64.82" cy="839.53" r="0.92" fill="#161616"/>
<circle cx="66.33" cy="839.53" r="0.92" fill="#161616"/>
<circle cx="68.17" cy="839.14" r="0.92" fill="#161616"/>
<circle cx="69.63" cy="838.92" r="0.92" fill="#161616"/>
<circle cx="71.09" cy="838.23" r="0.92" fill="#161616"/>
<circle cx="72.76" cy="837.79" r="0.92" fill="#161616"/>
<circle cx="58.64" cy="835.60" r="0.92" fill="#161616"/>
<circle cx="60.42" cy="836.22" r="0.92" fill="#161616"/>
<circle cx="61.92" cy="836.63" r="0.92" fill="#161616"/>
<circle cx="63.45" cy="837.00" r="0.92" fill="#161616"/>
<circle cx="64.93" cy="837.09" r="0.92" fill="#161616"/>
<circle cx="66.33" cy="837.16" r="0.92" fill="#161616"/>
<circle cx="67.96" cy="836.61" r="0.92" fill="#161616"/>
<circle cx="69.63" cy="836.34" r="0.92" fill="#161616"/>
<circle cx="71.11" cy="836.30" r="0.92" fill="#161616"/>
<circle cx="72.82" cy="835.90" r="0.92" fill="#161616"/>
<circle cx="58.64" cy="833.26" r="0.92" fill="#161616"/>
<circle cx="60.19" cy="833.64" r="0.92" fill="#161616"/>
<circle cx="61.95" cy="834.24" r="0.92" fill="#161616"/>
<circle cx="63.37" cy="834.73" r="0.92" fill="#161616"/>
<circle cx="65.01" cy="835.03" r="0.92" fill="#161616"/>
<circle cx="66.52" cy="834.74" r="0.92" fill="#161616"/>
<circle cx="68.11" cy="834.77" r="0.92" fill="#161616"/>
<circle cx="69.57" cy="834.30" r="0.92" fill="#161616"/>
<circle cx="71.21" cy="833.63" r="0.92" fill="#161616"/>
<circle cx="72.77" cy="833.32" r="0.92" fill="#161616"/>
<circle cx="60.41" cy="831.46" r="0.92" fill="#161616"/>
<circle cx="61.73" cy="832.01" r="0.92" fill="#161616"/>
<circle cx="63.27" cy="832.10" r="0.92" fill="#161616"/>
<circle cx="65.02" cy="832.87" r="0.92" fill="#161616"/>
<circle cx="66.57" cy="832.49" r="0.92" fill="#161616"/>
<circle cx="68.07" cy="832.52" r="0.92" fill="#161616"/>
<circle cx="69.59" cy="831.82" r="0.92" fill="#161616"/>
<circle cx="70.98" cy="831.32" r="0.92" fill="#161616"/>
<circle cx="61.96" cy="829.63" r="0.92" fill="#161616"/>
<circle cx="63.49" cy="829.97" r="0.92" fill="#161616"/>
<circle cx="64.84" cy="830.55" r="0.92" fill="#161616"/>
<circle cx="66.41" cy="830.27" r="0.92" fill="#161616"/>
<circle cx="68.05" cy="829.87" r="0.92" fill="#161616"/>
<circle cx="69.55" cy="829.50" r="0.92" fill="#161616"/>
<circle cx="64.14" cy="827.84" r="0.92" fill="#161616"/>
<circle cx="65.82" cy="828.35" r="0.92" fill="#161616"/>
<circle cx="67.38" cy="827.88" r="0.92" fill="#161616"/>
<circle cx="64.78" cy="825.84" r="0.92" fill="#161616"/>
<circle cx="66.38" cy="825.80" r="0.92" fill="#161616"/>
<circle cx="64.11" cy="785.65" r="0.95" fill="#161616"/>
<circle cx="66.66" cy="804.17" r="0.95" fill="#161616"/>
<circle cx="64.65" cy="806.55" r="0.95" fill="#161616"/>
<circle cx="65.62" cy="811.30" r="0.95" fill="#161616"/>
<circle cx="66.42" cy="814.62" r="0.95" fill="#161616"/>
<circle cx="65.88" cy="817.00" r="0.95" fill="#161616"/>
<circle cx="65.14" cy="819.85" r="0.95" fill="#161616"/>
<circle cx="65.76" cy="821.75" r="0.95" fill="#161616"/>
<circle cx="95.62" cy="851.48" r="0.92" fill="#161616"/>
<circle cx="95.60" cy="849.53" r="0.92" fill="#161616"/>
<circle cx="93.26" cy="846.74" r="0.92" fill="#161616"/>
<circle cx="94.83" cy="846.98" r="0.92" fill="#161616"/>
<circle cx="96.43" cy="846.93" r="0.92" fill="#161616"/>
<circle cx="97.93" cy="846.51" r="0.92" fill="#161616"/>
<circle cx="91.84" cy="843.97" r="0.92" fill="#161616"/>
<circle cx="93.20" cy="844.47" r="0.92" fill="#161616"/>
<circle cx="94.96" cy="844.67" r="0.92" fill="#161616"/>
<circle cx="96.27" cy="844.81" r="0.92" fill="#161616"/>
<circle cx="97.91" cy="844.06" r="0.92" fill="#161616"/>
<circle cx="99.40" cy="843.65" r="0.92" fill="#161616"/>
<circle cx="91.84" cy="841.73" r="0.92" fill="#161616"/>
<circle cx="93.34" cy="841.80" r="0.92" fill="#161616"/>
<circle cx="94.72" cy="842.44" r="0.92" fill="#161616"/>
<circle cx="96.52" cy="842.55" r="0.92" fill="#161616"/>
<circle cx="98.06" cy="841.83" r="0.92" fill="#161616"/>
<circle cx="99.47" cy="841.54" r="0.92" fill="#161616"/>
<circle cx="86.28" cy="837.78" r="0.92" fill="#161616"/>
<circle cx="87.80" cy="838.35" r="0.92" fill="#161616"/>
<circle cx="89.35" cy="838.57" r="0.92" fill="#161616"/>
<circle cx="90.81" cy="839.22" r="0.92" fill="#161616"/>
<circle cx="92.48" cy="839.53" r="0.92" fill="#161616"/>
<circle cx="94.00" cy="839.65" r="0.92" fill="#161616"/>
<circle cx="95.60" cy="840.34" r="0.92" fill="#161616"/>
<circle cx="97.30" cy="839.67" r="0.92" fill="#161616"/>
<circle cx="98.84" cy="839.64" r="0.92" fill="#161616"/>
<circle cx="100.18" cy="838.91" r="0.92" fill="#161616"/>
<circle cx="101.88" cy="838.49" r="0.92" fill="#161616"/>
<circle cx="103.24" cy="838.22" r="0.92" fill="#161616"/>
<circle cx="105.02" cy="837.91" r="0.92" fill="#161616"/>
<circle cx="87.20" cy="835.69" r="0.92" fill="#161616"/>
<circle cx="88.69" cy="836.29" r="0.92" fill="#161616"/>
<circle cx="90.04" cy="836.43" r="0.92" fill="#161616"/>
<circle cx="91.70" cy="837.12" r="0.92" fill="#161616"/>
<circle cx="93.41" cy="837.20" r="0.92" fill="#161616"/>
<circle cx="94.92" cy="837.87" r="0.92" fill="#161616"/>
<circle cx="96.48" cy="837.59" r="0.92" fill="#161616"/>
<circle cx="98.03" cy="837.20" r="0.92" fill="#161616"/>
<circle cx="99.43" cy="837.00" r="0.92" fill="#161616"/>
<circle cx="101.15" cy="836.67" r="0.92" fill="#161616"/>
<circle cx="102.46" cy="836.14" r="0.92" fill="#161616"/>
<circle cx="104.05" cy="835.88" r="0.92" fill="#161616"/>
<circle cx="90.86" cy="834.33" r="0.92" fill="#161616"/>
<circle cx="92.44" cy="834.85" r="0.92" fill="#161616"/>
<circle cx="93.99" cy="835.46" r="0.92" fill="#161616"/>
<circle cx="95.50" cy="835.72" r="0.92" fill="#161616"/>
<circle cx="97.01" cy="835.25" r="0.92" fill="#161616"/>
<circle cx="98.55" cy="834.82" r="0.92" fill="#161616"/>
<circle cx="100.27" cy="834.67" r="0.92" fill="#161616"/>
<circle cx="90.06" cy="832.30" r="0.92" fill="#161616"/>
<circle cx="91.70" cy="832.63" r="0.92" fill="#161616"/>
<circle cx="93.38" cy="832.85" r="0.92" fill="#161616"/>
<circle cx="94.83" cy="833.19" r="0.92" fill="#161616"/>
<circle cx="96.52" cy="833.34" r="0.92" fill="#161616"/>
<circle cx="98.02" cy="832.78" r="0.92" fill="#161616"/>
<circle cx="99.52" cy="832.57" r="0.92" fill="#161616"/>
<circle cx="100.98" cy="832.03" r="0.92" fill="#161616"/>
<circle cx="91.02" cy="829.78" r="0.92" fill="#161616"/>
<circle cx="92.40" cy="830.26" r="0.92" fill="#161616"/>
<circle cx="94.15" cy="830.56" r="0.92" fill="#161616"/>
<circle cx="95.65" cy="831.34" r="0.92" fill="#161616"/>
<circle cx="97.07" cy="830.66" r="0.92" fill="#161616"/>
<circle cx="98.69" cy="830.28" r="0.92" fill="#161616"/>
<circle cx="100.23" cy="829.82" r="0.92" fill="#161616"/>
<circle cx="89.41" cy="827.56" r="0.92" fill="#161616"/>
<circle cx="91.09" cy="827.58" r="0.92" fill="#161616"/>
<circle cx="92.46" cy="828.00" r="0.92" fill="#161616"/>
<circle cx="94.01" cy="828.24" r="0.92" fill="#161616"/>
<circle cx="95.60" cy="828.86" r="0.92" fill="#161616"/>
<circle cx="97.15" cy="828.34" r="0.92" fill="#161616"/>
<circle cx="98.63" cy="827.85" r="0.92" fill="#161616"/>
<circle cx="100.22" cy="827.51" r="0.92" fill="#161616"/>
<circle cx="101.66" cy="827.10" r="0.92" fill="#161616"/>
<circle cx="90.18" cy="825.28" r="0.92" fill="#161616"/>
<circle cx="91.77" cy="825.75" r="0.92" fill="#161616"/>
<circle cx="93.39" cy="826.12" r="0.92" fill="#161616"/>
<circle cx="94.77" cy="826.35" r="0.92" fill="#161616"/>
<circle cx="96.27" cy="826.64" r="0.92" fill="#161616"/>
<circle cx="97.97" cy="826.13" r="0.92" fill="#161616"/>
<circle cx="99.58" cy="825.40" r="0.92" fill="#161616"/>
<circle cx="101.06" cy="825.43" r="0.92" fill="#161616"/>
<circle cx="87.08" cy="822.00" r="0.92" fill="#161616"/>
<circle cx="88.73" cy="822.57" r="0.92" fill="#161616"/>
<circle cx="90.27" cy="823.11" r="0.92" fill="#161616"/>
<circle cx="91.84" cy="823.39" r="0.92" fill="#161616"/>
<circle cx="93.33" cy="823.83" r="0.92" fill="#161616"/>
<circle cx="94.68" cy="823.99" r="0.92" fill="#161616"/>
<circle cx="96.33" cy="823.94" r="0.92" fill="#161616"/>
<circle cx="98.03" cy="823.54" r="0.92" fill="#161616"/>
<circle cx="99.51" cy="823.38" r="0.92" fill="#161616"/>
<circle cx="101.08" cy="823.02" r="0.92" fill="#161616"/>
<circle cx="102.43" cy="822.57" r="0.92" fill="#161616"/>
<circle cx="104.20" cy="822.33" r="0.92" fill="#161616"/>
<circle cx="88.49" cy="820.37" r="0.92" fill="#161616"/>
<circle cx="90.10" cy="820.80" r="0.92" fill="#161616"/>
<circle cx="91.65" cy="820.85" r="0.92" fill="#161616"/>
<circle cx="93.19" cy="821.57" r="0.92" fill="#161616"/>
<circle cx="94.97" cy="821.96" r="0.92" fill="#161616"/>
<circle cx="96.34" cy="821.84" r="0.92" fill="#161616"/>
<circle cx="97.98" cy="821.44" r="0.92" fill="#161616"/>
<circle cx="99.51" cy="821.20" r="0.92" fill="#161616"/>
<circle cx="100.90" cy="820.75" r="0.92" fill="#161616"/>
<circle cx="102.50" cy="820.11" r="0.92" fill="#161616"/>
<circle cx="87.70" cy="817.85" r="0.92" fill="#161616"/>
<circle cx="89.33" cy="817.99" r="0.92" fill="#161616"/>
<circle cx="91.01" cy="818.68" r="0.92" fill="#161616"/>
<circle cx="92.44" cy="819.07" r="0.92" fill="#161616"/>
<circle cx="94.04" cy="819.38" r="0.92" fill="#161616"/>
<circle cx="95.49" cy="819.74" r="0.92" fill="#161616"/>
<circle cx="97.06" cy="819.56" r="0.92" fill="#161616"/>
<circle cx="98.83" cy="819.22" r="0.92" fill="#161616"/>
<circle cx="100.24" cy="818.35" r="0.92" fill="#161616"/>
<circle cx="101.94" cy="818.36" r="0.92" fill="#161616"/>
<circle cx="103.28" cy="817.79" r="0.92" fill="#161616"/>
<circle cx="90.97" cy="816.17" r="0.92" fill="#161616"/>
<circle cx="92.51" cy="816.52" r="0.92" fill="#161616"/>
<circle cx="93.94" cy="817.31" r="0.92" fill="#161616"/>
<circle cx="95.60" cy="817.64" r="0.92" fill="#161616"/>
<circle cx="97.21" cy="817.28" r="0.92" fill="#161616"/>
<circle cx="98.82" cy="816.57" r="0.92" fill="#161616"/>
<circle cx="100.11" cy="816.31" r="0.92" fill="#161616"/>
<circle cx="93.22" cy="814.59" r="0.92" fill="#161616"/>
<circle cx="94.78" cy="814.82" r="0.92" fill="#161616"/>
<circle cx="96.48" cy="814.91" r="0.92" fill="#161616"/>
<circle cx="98.00" cy="814.36" r="0.92" fill="#161616"/>
<circle cx="92.56" cy="812.35" r="0.92" fill="#161616"/>
<circle cx="93.99" cy="812.73" r="0.92" fill="#161616"/>
<circle cx="95.57" cy="812.85" r="0.92" fill="#161616"/>
<circle cx="97.18" cy="812.78" r="0.92" fill="#161616"/>
<circle cx="98.68" cy="812.07" r="0.92" fill="#161616"/>
<circle cx="94.93" cy="810.24" r="0.92" fill="#161616"/>
<circle cx="96.51" cy="810.33" r="0.92" fill="#161616"/>
<circle cx="95.51" cy="808.36" r="0.92" fill="#161616"/>
<circle cx="95.19" cy="775.67" r="0.95" fill="#161616"/>
<circle cx="97.06" cy="782.33" r="0.95" fill="#161616"/>
<circle cx="96.83" cy="787.55" r="0.95" fill="#161616"/>
<circle cx="96.60" cy="792.30" r="0.95" fill="#161616"/>
<circle cx="96.02" cy="793.25" r="0.95" fill="#161616"/>
<circle cx="96.92" cy="794.20" r="0.95" fill="#161616"/>
<circle cx="97.01" cy="796.58" r="0.95" fill="#161616"/>
<circle cx="95.76" cy="798.95" r="0.95" fill="#161616"/>
<circle cx="96.30" cy="802.75" r="0.95" fill="#161616"/>
<circle cx="94.16" cy="804.17" r="0.95" fill="#161616"/>
<circle cx="125.44" cy="850.85" r="0.92" fill="#161616"/>
<circle cx="125.29" cy="848.66" r="0.92" fill="#161616"/>
<circle cx="123.15" cy="845.48" r="0.92" fill="#161616"/>
<circle cx="124.55" cy="846.21" r="0.92" fill="#161616"/>
<circle cx="126.12" cy="846.05" r="0.92" fill="#161616"/>
<circle cx="127.69" cy="845.61" r="0.92" fill="#161616"/>
<circle cx="123.20" cy="843.16" r="0.92" fill="#161616"/>
<circle cx="124.54" cy="843.69" r="0.92" fill="#161616"/>
<circle cx="126.32" cy="843.89" r="0.92" fill="#161616"/>
<circle cx="127.62" cy="843.28" r="0.92" fill="#161616"/>
<circle cx="121.40" cy="840.56" r="0.92" fill="#161616"/>
<circle cx="123.00" cy="840.89" r="0.92" fill="#161616"/>
<circle cx="124.74" cy="841.45" r="0.92" fill="#161616"/>
<circle cx="126.15" cy="841.54" r="0.92" fill="#161616"/>
<circle cx="127.73" cy="840.98" r="0.92" fill="#161616"/>
<circle cx="129.23" cy="840.57" r="0.92" fill="#161616"/>
<circle cx="121.41" cy="838.59" r="0.92" fill="#161616"/>
<circle cx="123.11" cy="838.75" r="0.92" fill="#161616"/>
<circle cx="124.54" cy="839.31" r="0.92" fill="#161616"/>
<circle cx="126.10" cy="839.02" r="0.92" fill="#161616"/>
<circle cx="127.71" cy="838.69" r="0.92" fill="#161616"/>
<circle cx="129.38" cy="838.58" r="0.92" fill="#161616"/>
<circle cx="117.71" cy="834.87" r="0.92" fill="#161616"/>
<circle cx="119.19" cy="835.69" r="0.92" fill="#161616"/>
<circle cx="120.60" cy="835.93" r="0.92" fill="#161616"/>
<circle cx="122.43" cy="836.22" r="0.92" fill="#161616"/>
<circle cx="123.96" cy="836.82" r="0.92" fill="#161616"/>
<circle cx="125.32" cy="837.28" r="0.92" fill="#161616"/>
<circle cx="126.85" cy="836.46" r="0.92" fill="#161616"/>
<circle cx="128.55" cy="836.28" r="0.92" fill="#161616"/>
<circle cx="130.12" cy="836.10" r="0.92" fill="#161616"/>
<circle cx="131.68" cy="835.57" r="0.92" fill="#161616"/>
<circle cx="133.17" cy="835.09" r="0.92" fill="#161616"/>
<circle cx="120.88" cy="833.47" r="0.92" fill="#161616"/>
<circle cx="122.24" cy="834.06" r="0.92" fill="#161616"/>
<circle cx="123.78" cy="834.19" r="0.92" fill="#161616"/>
<circle cx="125.46" cy="834.83" r="0.92" fill="#161616"/>
<circle cx="126.82" cy="834.18" r="0.92" fill="#161616"/>
<circle cx="128.52" cy="834.00" r="0.92" fill="#161616"/>
<circle cx="129.97" cy="833.55" r="0.92" fill="#161616"/>
<circle cx="118.41" cy="830.64" r="0.92" fill="#161616"/>
<circle cx="120.02" cy="831.36" r="0.92" fill="#161616"/>
<circle cx="121.52" cy="831.71" r="0.92" fill="#161616"/>
<circle cx="123.00" cy="831.77" r="0.92" fill="#161616"/>
<circle cx="124.69" cy="832.52" r="0.92" fill="#161616"/>
<circle cx="126.03" cy="832.19" r="0.92" fill="#161616"/>
<circle cx="127.78" cy="831.90" r="0.92" fill="#161616"/>
<circle cx="129.20" cy="831.48" r="0.92" fill="#161616"/>
<circle cx="130.95" cy="831.21" r="0.92" fill="#161616"/>
<circle cx="132.24" cy="830.60" r="0.92" fill="#161616"/>
<circle cx="119.88" cy="828.94" r="0.92" fill="#161616"/>
<circle cx="121.60" cy="829.38" r="0.92" fill="#161616"/>
<circle cx="122.99" cy="829.63" r="0.92" fill="#161616"/>
<circle cx="124.57" cy="830.25" r="0.92" fill="#161616"/>
<circle cx="126.09" cy="830.17" r="0.92" fill="#161616"/>
<circle cx="127.80" cy="829.48" r="0.92" fill="#161616"/>
<circle cx="129.41" cy="829.13" r="0.92" fill="#161616"/>
<circle cx="130.73" cy="828.85" r="0.92" fill="#161616"/>
<circle cx="120.11" cy="826.65" r="0.92" fill="#161616"/>
<circle cx="121.49" cy="826.78" r="0.92" fill="#161616"/>
<circle cx="123.22" cy="827.20" r="0.92" fill="#161616"/>
<circle cx="124.49" cy="827.55" r="0.92" fill="#161616"/>
<circle cx="126.14" cy="827.51" r="0.92" fill="#161616"/>
<circle cx="127.84" cy="827.54" r="0.92" fill="#161616"/>
<circle cx="129.42" cy="827.07" r="0.92" fill="#161616"/>
<circle cx="130.77" cy="826.78" r="0.92" fill="#161616"/>
<circle cx="119.83" cy="824.41" r="0.92" fill="#161616"/>
<circle cx="121.49" cy="824.76" r="0.92" fill="#161616"/>
<circle cx="123.02" cy="825.00" r="0.92" fill="#161616"/>
<circle cx="124.48" cy="825.29" r="0.92" fill="#161616"/>
<circle cx="126.13" cy="825.34" r="0.92" fill="#161616"/>
<circle cx="127.61" cy="825.29" r="0.92" fill="#161616"/>
<circle cx="129.19" cy="824.91" r="0.92" fill="#161616"/>
<circle cx="130.92" cy="824.22" r="0.92" fill="#161616"/>
<circle cx="117.64" cy="821.20" r="0.92" fill="#161616"/>
<circle cx="119.33" cy="821.75" r="0.92" fill="#161616"/>
<circle cx="120.71" cy="822.05" r="0.92" fill="#161616"/>
<circle cx="122.16" cy="822.79" r="0.92" fill="#161616"/>
<circle cx="123.94" cy="822.93" r="0.92" fill="#161616"/>
<circle cx="125.26" cy="823.50" r="0.92" fill="#161616"/>
<circle cx="126.82" cy="822.74" r="0.92" fill="#161616"/>
<circle cx="128.43" cy="822.80" r="0.92" fill="#161616"/>
<circle cx="130.17" cy="822.33" r="0.92" fill="#161616"/>
<circle cx="131.53" cy="821.73" r="0.92" fill="#161616"/>
<circle cx="133.19" cy="821.66" r="0.92" fill="#161616"/>
<circle cx="119.91" cy="819.64" r="0.92" fill="#161616"/>
<circle cx="121.60" cy="819.87" r="0.92" fill="#161616"/>
<circle cx="123.12" cy="820.71" r="0.92" fill="#161616"/>
<circle cx="124.48" cy="821.11" r="0.92" fill="#161616"/>
<circle cx="126.17" cy="820.76" r="0.92" fill="#161616"/>
<circle cx="127.86" cy="820.73" r="0.92" fill="#161616"/>
<circle cx="129.20" cy="820.06" r="0.92" fill="#161616"/>
<circle cx="130.82" cy="819.69" r="0.92" fill="#161616"/>
<circle cx="117.72" cy="817.02" r="0.92" fill="#161616"/>
<circle cx="119.28" cy="817.42" r="0.92" fill="#161616"/>
<circle cx="120.70" cy="817.70" r="0.92" fill="#161616"/>
<circle cx="122.26" cy="817.94" r="0.92" fill="#161616"/>
<circle cx="123.72" cy="818.56" r="0.92" fill="#161616"/>
<circle cx="125.48" cy="818.65" r="0.92" fill="#161616"/>
<circle cx="126.82" cy="818.29" r="0.92" fill="#161616"/>
<circle cx="128.52" cy="817.80" r="0.92" fill="#161616"/>
<circle cx="130.19" cy="817.56" r="0.92" fill="#161616"/>
<circle cx="131.75" cy="817.45" r="0.92" fill="#161616"/>
<circle cx="133.03" cy="816.75" r="0.92" fill="#161616"/>
<circle cx="122.28" cy="815.85" r="0.92" fill="#161616"/>
<circle cx="123.83" cy="816.00" r="0.92" fill="#161616"/>
<circle cx="125.45" cy="816.59" r="0.92" fill="#161616"/>
<circle cx="127.05" cy="816.26" r="0.92" fill="#161616"/>
<circle cx="128.39" cy="815.83" r="0.92" fill="#161616"/>
<circle cx="122.26" cy="813.50" r="0.92" fill="#161616"/>
<circle cx="123.76" cy="813.98" r="0.92" fill="#161616"/>
<circle cx="125.32" cy="814.12" r="0.92" fill="#161616"/>
<circle cx="127.07" cy="813.68" r="0.92" fill="#161616"/>
<circle cx="128.45" cy="813.51" r="0.92" fill="#161616"/>
<circle cx="123.77" cy="811.58" r="0.92" fill="#161616"/>
<circle cx="125.45" cy="812.12" r="0.92" fill="#161616"/>
<circle cx="126.83" cy="811.82" r="0.92" fill="#161616"/>
<circle cx="124.75" cy="809.66" r="0.92" fill="#161616"/>
<circle cx="126.11" cy="809.26" r="0.92" fill="#161616"/>
<circle cx="124.18" cy="760.00" r="0.95" fill="#161616"/>
<circle cx="124.41" cy="775.67" r="0.95" fill="#161616"/>
<circle cx="126.91" cy="782.33" r="0.95" fill="#161616"/>
<circle cx="125.67" cy="788.50" r="0.95" fill="#161616"/>
<circle cx="126.78" cy="792.30" r="0.95" fill="#161616"/>
<circle cx="124.99" cy="795.62" r="0.95" fill="#161616"/>
<circle cx="126.57" cy="798.00" r="0.95" fill="#161616"/>
<circle cx="125.24" cy="801.33" r="0.95" fill="#161616"/>
<circle cx="124.63" cy="804.17" r="0.95" fill="#161616"/>
<circle cx="126.29" cy="806.55" r="0.95" fill="#161616"/>
<circle cx="154.74" cy="855.05" r="0.92" fill="#161616"/>
<circle cx="153.84" cy="852.35" r="0.92" fill="#161616"/>
<circle cx="155.50" cy="852.40" r="0.92" fill="#161616"/>
<circle cx="150.77" cy="849.23" r="0.92" fill="#161616"/>
<circle cx="152.28" cy="849.95" r="0.92" fill="#161616"/>
<circle cx="153.84" cy="850.15" r="0.92" fill="#161616"/>
<circle cx="155.49" cy="850.39" r="0.92" fill="#161616"/>
<circle cx="156.91" cy="849.64" r="0.92" fill="#161616"/>
<circle cx="158.59" cy="849.42" r="0.92" fill="#161616"/>
<circle cx="148.56" cy="846.44" r="0.92" fill="#161616"/>
<circle cx="149.98" cy="846.95" r="0.92" fill="#161616"/>
<circle cx="151.74" cy="847.29" r="0.92" fill="#161616"/>
<circle cx="153.17" cy="847.68" r="0.92" fill="#161616"/>
<circle cx="154.67" cy="848.09" r="0.92" fill="#161616"/>
<circle cx="156.40" cy="847.95" r="0.92" fill="#161616"/>
<circle cx="157.71" cy="847.32" r="0.92" fill="#161616"/>
<circle cx="159.26" cy="847.11" r="0.92" fill="#161616"/>
<circle cx="161.02" cy="846.36" r="0.92" fill="#161616"/>
<circle cx="148.61" cy="844.28" r="0.92" fill="#161616"/>
<circle cx="149.95" cy="844.70" r="0.92" fill="#161616"/>
<circle cx="151.62" cy="844.86" r="0.92" fill="#161616"/>
<circle cx="153.27" cy="845.56" r="0.92" fill="#161616"/>
<circle cx="154.74" cy="845.67" r="0.92" fill="#161616"/>
<circle cx="156.25" cy="845.43" r="0.92" fill="#161616"/>
<circle cx="157.73" cy="844.93" r="0.92" fill="#161616"/>
<circle cx="159.48" cy="844.73" r="0.92" fill="#161616"/>
<circle cx="160.90" cy="844.13" r="0.92" fill="#161616"/>
<circle cx="146.06" cy="841.32" r="0.92" fill="#161616"/>
<circle cx="147.87" cy="842.08" r="0.92" fill="#161616"/>
<circle cx="149.14" cy="842.24" r="0.92" fill="#161616"/>
<circle cx="150.79" cy="842.84" r="0.92" fill="#161616"/>
<circle cx="152.41" cy="843.22" r="0.92" fill="#161616"/>
<circle cx="153.82" cy="843.57" r="0.92" fill="#161616"/>
<circle cx="155.39" cy="843.55" r="0.92" fill="#161616"/>
<circle cx="157.13" cy="842.97" r="0.92" fill="#161616"/>
<circle cx="158.48" cy="842.80" r="0.92" fill="#161616"/>
<circle cx="160.09" cy="842.10" r="0.92" fill="#161616"/>
<circle cx="161.64" cy="841.87" r="0.92" fill="#161616"/>
<circle cx="163.15" cy="841.28" r="0.92" fill="#161616"/>
<circle cx="146.97" cy="839.15" r="0.92" fill="#161616"/>
<circle cx="148.36" cy="839.90" r="0.92" fill="#161616"/>
<circle cx="149.94" cy="840.33" r="0.92" fill="#161616"/>
<circle cx="151.62" cy="840.59" r="0.92" fill="#161616"/>
<circle cx="153.09" cy="841.00" r="0.92" fill="#161616"/>
<circle cx="154.72" cy="841.28" r="0.92" fill="#161616"/>
<circle cx="156.30" cy="840.90" r="0.92" fill="#161616"/>
<circle cx="157.78" cy="840.52" r="0.92" fill="#161616"/>
<circle cx="159.39" cy="839.92" r="0.92" fill="#161616"/>
<circle cx="160.82" cy="839.76" r="0.92" fill="#161616"/>
<circle cx="162.53" cy="839.51" r="0.92" fill="#161616"/>
<circle cx="148.38" cy="837.48" r="0.92" fill="#161616"/>
<circle cx="150.03" cy="837.69" r="0.92" fill="#161616"/>
<circle cx="151.58" cy="838.06" r="0.92" fill="#161616"/>
<circle cx="153.01" cy="838.66" r="0.92" fill="#161616"/>
<circle cx="154.57" cy="839.11" r="0.92" fill="#161616"/>
<circle cx="156.33" cy="838.77" r="0.92" fill="#161616"/>
<circle cx="157.67" cy="838.27" r="0.92" fill="#161616"/>
<circle cx="159.31" cy="837.88" r="0.92" fill="#161616"/>
<circle cx="160.79" cy="837.72" r="0.92" fill="#161616"/>
<circle cx="146.27" cy="834.74" r="0.92" fill="#161616"/>
<circle cx="147.87" cy="834.86" r="0.92" fill="#161616"/>
<circle cx="149.41" cy="835.40" r="0.92" fill="#161616"/>
<circle cx="150.72" cy="836.00" r="0.92" fill="#161616"/>
<circle cx="152.50" cy="836.32" r="0.92" fill="#161616"/>
<circle cx="153.88" cy="836.35" r="0.92" fill="#161616"/>
<circle cx="155.37" cy="836.69" r="0.92" fill="#161616"/>
<circle cx="156.96" cy="836.38" r="0.92" fill="#161616"/>
<circle cx="158.47" cy="835.95" r="0.92" fill="#161616"/>
<circle cx="160.25" cy="835.40" r="0.92" fill="#161616"/>
<circle cx="161.60" cy="834.87" r="0.92" fill="#161616"/>
<circle cx="163.17" cy="834.63" r="0.92" fill="#161616"/>
<circle cx="150.96" cy="833.34" r="0.92" fill="#161616"/>
<circle cx="152.49" cy="833.99" r="0.92" fill="#161616"/>
<circle cx="154.01" cy="834.12" r="0.92" fill="#161616"/>
<circle cx="155.48" cy="834.09" r="0.92" fill="#161616"/>
<circle cx="156.98" cy="833.97" r="0.92" fill="#161616"/>
<circle cx="158.59" cy="833.70" r="0.92" fill="#161616"/>
<circle cx="148.65" cy="830.45" r="0.92" fill="#161616"/>
<circle cx="150.02" cy="831.10" r="0.92" fill="#161616"/>
<circle cx="151.53" cy="831.57" r="0.92" fill="#161616"/>
<circle cx="153.17" cy="832.06" r="0.92" fill="#161616"/>
<circle cx="154.78" cy="832.13" r="0.92" fill="#161616"/>
<circle cx="156.15" cy="831.78" r="0.92" fill="#161616"/>
<circle cx="157.66" cy="831.55" r="0.92" fill="#161616"/>
<circle cx="159.28" cy="831.20" r="0.92" fill="#161616"/>
<circle cx="161.05" cy="830.72" r="0.92" fill="#161616"/>
<circle cx="149.90" cy="828.66" r="0.92" fill="#161616"/>
<circle cx="151.49" cy="828.91" r="0.92" fill="#161616"/>
<circle cx="153.13" cy="829.59" r="0.92" fill="#161616"/>
<circle cx="154.82" cy="829.93" r="0.92" fill="#161616"/>
<circle cx="156.17" cy="829.35" r="0.92" fill="#161616"/>
<circle cx="157.66" cy="829.22" r="0.92" fill="#161616"/>
<circle cx="159.31" cy="828.51" r="0.92" fill="#161616"/>
<circle cx="153.18" cy="827.11" r="0.92" fill="#161616"/>
<circle cx="154.61" cy="827.68" r="0.92" fill="#161616"/>
<circle cx="156.24" cy="827.31" r="0.92" fill="#161616"/>
<circle cx="153.04" cy="824.84" r="0.92" fill="#161616"/>
<circle cx="154.74" cy="825.16" r="0.92" fill="#161616"/>
<circle cx="156.33" cy="825.16" r="0.92" fill="#161616"/>
<circle cx="154.74" cy="822.84" r="0.92" fill="#161616"/>
<circle cx="154.90" cy="768.55" r="0.95" fill="#161616"/>
<circle cx="154.22" cy="802.75" r="0.95" fill="#161616"/>
<circle cx="155.17" cy="804.17" r="0.95" fill="#161616"/>
<circle cx="154.52" cy="806.55" r="0.95" fill="#161616"/>
<circle cx="156.10" cy="809.88" r="0.95" fill="#161616"/>
<circle cx="155.45" cy="812.25" r="0.95" fill="#161616"/>
<circle cx="153.90" cy="814.62" r="0.95" fill="#161616"/>
<circle cx="155.99" cy="817.00" r="0.95" fill="#161616"/>
<circle cx="153.24" cy="818.90" r="0.95" fill="#161616"/>
<circle cx="184.47" cy="854.87" r="0.92" fill="#161616"/>
<circle cx="183.96" cy="852.55" r="0.92" fill="#161616"/>
<circle cx="185.28" cy="852.35" r="0.92" fill="#161616"/>
<circle cx="181.59" cy="849.74" r="0.92" fill="#161616"/>
<circle cx="182.99" cy="849.89" r="0.92" fill="#161616"/>
<circle cx="184.46" cy="850.34" r="0.92" fill="#161616"/>
<circle cx="186.23" cy="850.25" r="0.92" fill="#161616"/>
<circle cx="187.55" cy="849.77" r="0.92" fill="#161616"/>
<circle cx="178.47" cy="846.59" r="0.92" fill="#161616"/>
<circle cx="179.87" cy="846.97" r="0.92" fill="#161616"/>
<circle cx="181.42" cy="847.19" r="0.92" fill="#161616"/>
<circle cx="183.00" cy="847.54" r="0.92" fill="#161616"/>
<circle cx="184.66" cy="848.28" r="0.92" fill="#161616"/>
<circle cx="186.21" cy="847.95" r="0.92" fill="#161616"/>
<circle cx="187.72" cy="847.27" r="0.92" fill="#161616"/>
<circle cx="189.34" cy="846.97" r="0.92" fill="#161616"/>
<circle cx="190.73" cy="846.62" r="0.92" fill="#161616"/>
<circle cx="176.96" cy="843.80" r="0.92" fill="#161616"/>
<circle cx="178.33" cy="844.09" r="0.92" fill="#161616"/>
<circle cx="180.02" cy="844.59" r="0.92" fill="#161616"/>
<circle cx="181.57" cy="845.33" r="0.92" fill="#161616"/>
<circle cx="183.16" cy="845.41" r="0.92" fill="#161616"/>
<circle cx="184.52" cy="845.79" r="0.92" fill="#161616"/>
<circle cx="186.19" cy="845.70" r="0.92" fill="#161616"/>
<circle cx="187.75" cy="845.20" r="0.92" fill="#161616"/>
<circle cx="189.24" cy="844.96" r="0.92" fill="#161616"/>
<circle cx="190.86" cy="844.50" r="0.92" fill="#161616"/>
<circle cx="192.33" cy="844.12" r="0.92" fill="#161616"/>
<circle cx="176.76" cy="841.57" r="0.92" fill="#161616"/>
<circle cx="178.27" cy="842.11" r="0.92" fill="#161616"/>
<circle cx="179.84" cy="842.64" r="0.92" fill="#161616"/>
<circle cx="181.38" cy="842.59" r="0.92" fill="#161616"/>
<circle cx="183.00" cy="843.43" r="0.92" fill="#161616"/>
<circle cx="184.46" cy="843.42" r="0.92" fill="#161616"/>
<circle cx="186.21" cy="842.98" r="0.92" fill="#161616"/>
<circle cx="187.76" cy="842.89" r="0.92" fill="#161616"/>
<circle cx="189.12" cy="842.56" r="0.92" fill="#161616"/>
<circle cx="190.76" cy="842.10" r="0.92" fill="#161616"/>
<circle cx="192.45" cy="841.82" r="0.92" fill="#161616"/>
<circle cx="176.97" cy="839.57" r="0.92" fill="#161616"/>
<circle cx="178.28" cy="839.99" r="0.92" fill="#161616"/>
<circle cx="179.83" cy="840.01" r="0.92" fill="#161616"/>
<circle cx="181.60" cy="840.31" r="0.92" fill="#161616"/>
<circle cx="183.09" cy="841.09" r="0.92" fill="#161616"/>
<circle cx="184.64" cy="841.48" r="0.92" fill="#161616"/>
<circle cx="186.03" cy="840.83" r="0.92" fill="#161616"/>
<circle cx="187.78" cy="840.34" r="0.92" fill="#161616"/>
<circle cx="189.20" cy="840.01" r="0.92" fill="#161616"/>
<circle cx="190.66" cy="839.73" r="0.92" fill="#161616"/>
<circle cx="192.28" cy="839.26" r="0.92" fill="#161616"/>
<circle cx="176.99" cy="837.01" r="0.92" fill="#161616"/>
<circle cx="178.51" cy="837.49" r="0.92" fill="#161616"/>
<circle cx="179.81" cy="837.94" r="0.92" fill="#161616"/>
<circle cx="181.48" cy="838.22" r="0.92" fill="#161616"/>
<circle cx="183.00" cy="838.79" r="0.92" fill="#161616"/>
<circle cx="184.61" cy="839.14" r="0.92" fill="#161616"/>
<circle cx="186.26" cy="838.51" r="0.92" fill="#161616"/>
<circle cx="187.80" cy="838.06" r="0.92" fill="#161616"/>
<circle cx="189.10" cy="837.71" r="0.92" fill="#161616"/>
<circle cx="190.88" cy="837.34" r="0.92" fill="#161616"/>
<circle cx="192.20" cy="837.34" r="0.92" fill="#161616"/>
<circle cx="178.31" cy="835.36" r="0.92" fill="#161616"/>
<circle cx="179.90" cy="835.59" r="0.92" fill="#161616"/>
<circle cx="181.43" cy="836.15" r="0.92" fill="#161616"/>
<circle cx="182.99" cy="836.59" r="0.92" fill="#161616"/>
<circle cx="184.66" cy="836.62" r="0.92" fill="#161616"/>
<circle cx="186.03" cy="836.37" r="0.92" fill="#161616"/>
<circle cx="187.57" cy="836.05" r="0.92" fill="#161616"/>
<circle cx="189.31" cy="835.74" r="0.92" fill="#161616"/>
<circle cx="190.84" cy="835.35" r="0.92" fill="#161616"/>
<circle cx="179.29" cy="833.07" r="0.92" fill="#161616"/>
<circle cx="180.84" cy="833.30" r="0.92" fill="#161616"/>
<circle cx="182.19" cy="833.66" r="0.92" fill="#161616"/>
<circle cx="183.95" cy="834.17" r="0.92" fill="#161616"/>
<circle cx="185.34" cy="834.29" r="0.92" fill="#161616"/>
<circle cx="186.85" cy="834.09" r="0.92" fill="#161616"/>
<circle cx="188.48" cy="833.49" r="0.92" fill="#161616"/>
<circle cx="190.10" cy="833.25" r="0.92" fill="#161616"/>
<circle cx="178.30" cy="830.56" r="0.92" fill="#161616"/>
<circle cx="180.00" cy="831.21" r="0.92" fill="#161616"/>
<circle cx="181.40" cy="831.55" r="0.92" fill="#161616"/>
<circle cx="183.13" cy="831.78" r="0.92" fill="#161616"/>
<circle cx="184.49" cy="832.24" r="0.92" fill="#161616"/>
<circle cx="186.27" cy="831.79" r="0.92" fill="#161616"/>
<circle cx="187.61" cy="831.29" r="0.92" fill="#161616"/>
<circle cx="189.31" cy="830.94" r="0.92" fill="#161616"/>
<circle cx="190.70" cy="830.82" r="0.92" fill="#161616"/>
<circle cx="182.28" cy="829.25" r="0.92" fill="#161616"/>
<circle cx="183.77" cy="829.56" r="0.92" fill="#161616"/>
<circle cx="185.52" cy="829.57" r="0.92" fill="#161616"/>
<circle cx="186.81" cy="829.45" r="0.92" fill="#161616"/>
<circle cx="183.97" cy="827.39" r="0.92" fill="#161616"/>
<circle cx="185.44" cy="827.59" r="0.92" fill="#161616"/>
<circle cx="184.39" cy="807.50" r="0.95" fill="#161616"/>
<circle cx="183.63" cy="809.88" r="0.95" fill="#161616"/>
<circle cx="185.04" cy="812.25" r="0.95" fill="#161616"/>
<circle cx="183.34" cy="814.62" r="0.95" fill="#161616"/>
<circle cx="183.66" cy="817.00" r="0.95" fill="#161616"/>
<circle cx="184.24" cy="819.38" r="0.95" fill="#161616"/>
<circle cx="183.11" cy="821.75" r="0.95" fill="#161616"/>
<circle cx="184.28" cy="824.12" r="0.95" fill="#161616"/>
<circle cx="214.64" cy="851.20" r="0.92" fill="#161616"/>
<circle cx="213.80" cy="848.78" r="0.92" fill="#161616"/>
<circle cx="215.50" cy="848.85" r="0.92" fill="#161616"/>
<circle cx="213.03" cy="846.38" r="0.92" fill="#161616"/>
<circle cx="214.67" cy="846.50" r="0.92" fill="#161616"/>
<circle cx="216.23" cy="846.44" r="0.92" fill="#161616"/>
<circle cx="209.99" cy="843.29" r="0.92" fill="#161616"/>
<circle cx="211.44" cy="843.56" r="0.92" fill="#161616"/>
<circle cx="212.93" cy="844.04" r="0.92" fill="#161616"/>
<circle cx="214.68" cy="844.32" r="0.92" fill="#161616"/>
<circle cx="216.19" cy="844.08" r="0.92" fill="#161616"/>
<circle cx="217.68" cy="843.46" r="0.92" fill="#161616"/>
<circle cx="219.29" cy="843.18" r="0.92" fill="#161616"/>
<circle cx="209.85" cy="841.13" r="0.92" fill="#161616"/>
<circle cx="211.58" cy="841.38" r="0.92" fill="#161616"/>
<circle cx="213.05" cy="841.64" r="0.92" fill="#161616"/>
<circle cx="214.46" cy="842.32" r="0.92" fill="#161616"/>
<circle cx="216.05" cy="841.71" r="0.92" fill="#161616"/>
<circle cx="217.83" cy="841.45" r="0.92" fill="#161616"/>
<circle cx="219.13" cy="840.93" r="0.92" fill="#161616"/>
<circle cx="207.63" cy="838.16" r="0.92" fill="#161616"/>
<circle cx="209.27" cy="838.51" r="0.92" fill="#161616"/>
<circle cx="210.70" cy="838.84" r="0.92" fill="#161616"/>
<circle cx="212.19" cy="839.44" r="0.92" fill="#161616"/>
<circle cx="213.79" cy="839.70" r="0.92" fill="#161616"/>
<circle cx="215.26" cy="839.74" r="0.92" fill="#161616"/>
<circle cx="216.88" cy="839.46" r="0.92" fill="#161616"/>
<circle cx="218.41" cy="838.61" r="0.92" fill="#161616"/>
<circle cx="219.88" cy="838.39" r="0.92" fill="#161616"/>
<circle cx="221.55" cy="838.02" r="0.92" fill="#161616"/>
<circle cx="206.77" cy="835.47" r="0.92" fill="#161616"/>
<circle cx="208.53" cy="836.09" r="0.92" fill="#161616"/>
<circle cx="209.87" cy="836.37" r="0.92" fill="#161616"/>
<circle cx="211.47" cy="836.90" r="0.92" fill="#161616"/>
<circle cx="212.94" cy="836.99" r="0.92" fill="#161616"/>
<circle cx="214.69" cy="837.66" r="0.92" fill="#161616"/>
<circle cx="216.14" cy="837.20" r="0.92" fill="#161616"/>
<circle cx="217.62" cy="836.78" r="0.92" fill="#161616"/>
<circle cx="219.21" cy="836.59" r="0.92" fill="#161616"/>
<circle cx="220.90" cy="836.04" r="0.92" fill="#161616"/>
<circle cx="222.34" cy="835.74" r="0.92" fill="#161616"/>
<circle cx="208.50" cy="833.50" r="0.92" fill="#161616"/>
<circle cx="210.06" cy="834.00" r="0.92" fill="#161616"/>
<circle cx="211.46" cy="834.35" r="0.92" fill="#161616"/>
<circle cx="213.03" cy="834.73" r="0.92" fill="#161616"/>
<circle cx="214.45" cy="835.08" r="0.92" fill="#161616"/>
<circle cx="216.08" cy="834.96" r="0.92" fill="#161616"/>
<circle cx="217.64" cy="834.34" r="0.92" fill="#161616"/>
<circle cx="219.23" cy="834.07" r="0.92" fill="#161616"/>
<circle cx="220.85" cy="833.76" r="0.92" fill="#161616"/>
<circle cx="207.49" cy="831.39" r="0.92" fill="#161616"/>
<circle cx="209.30" cy="831.77" r="0.92" fill="#161616"/>
<circle cx="210.62" cy="832.13" r="0.92" fill="#161616"/>
<circle cx="212.31" cy="832.54" r="0.92" fill="#161616"/>
<circle cx="213.68" cy="832.52" r="0.92" fill="#161616"/>
<circle cx="215.42" cy="832.99" r="0.92" fill="#161616"/>
<circle cx="216.81" cy="832.25" r="0.92" fill="#161616"/>
<circle cx="218.40" cy="831.81" r="0.92" fill="#161616"/>
<circle cx="219.98" cy="831.74" r="0.92" fill="#161616"/>
<circle cx="221.70" cy="831.04" r="0.92" fill="#161616"/>
<circle cx="206.88" cy="828.94" r="0.92" fill="#161616"/>
<circle cx="208.45" cy="829.27" r="0.92" fill="#161616"/>
<circle cx="210.04" cy="829.71" r="0.92" fill="#161616"/>
<circle cx="211.41" cy="830.07" r="0.92" fill="#161616"/>
<circle cx="213.06" cy="830.39" r="0.92" fill="#161616"/>
<circle cx="214.58" cy="830.80" r="0.92" fill="#161616"/>
<circle cx="216.17" cy="830.48" r="0.92" fill="#161616"/>
<circle cx="217.62" cy="829.79" r="0.92" fill="#161616"/>
<circle cx="219.25" cy="829.34" r="0.92" fill="#161616"/>
<circle cx="220.79" cy="828.91" r="0.92" fill="#161616"/>
<circle cx="222.35" cy="828.56" r="0.92" fill="#161616"/>
<circle cx="207.48" cy="826.84" r="0.92" fill="#161616"/>
<circle cx="209.17" cy="827.21" r="0.92" fill="#161616"/>
<circle cx="210.77" cy="827.46" r="0.92" fill="#161616"/>
<circle cx="212.24" cy="827.99" r="0.92" fill="#161616"/>
<circle cx="213.96" cy="828.17" r="0.92" fill="#161616"/>
<circle cx="215.42" cy="827.99" r="0.92" fill="#161616"/>
<circle cx="216.78" cy="827.89" r="0.92" fill="#161616"/>
<circle cx="218.53" cy="827.49" r="0.92" fill="#161616"/>
<circle cx="219.97" cy="827.26" r="0.92" fill="#161616"/>
<circle cx="221.58" cy="826.90" r="0.92" fill="#161616"/>
<circle cx="207.69" cy="824.14" r="0.92" fill="#161616"/>
<circle cx="209.13" cy="824.83" r="0.92" fill="#161616"/>
<circle cx="210.68" cy="825.33" r="0.92" fill="#161616"/>
<circle cx="212.28" cy="825.53" r="0.92" fill="#161616"/>
<circle cx="213.74" cy="826.06" r="0.92" fill="#161616"/>
<circle cx="215.35" cy="825.89" r="0.92" fill="#161616"/>
<circle cx="217.02" cy="825.57" r="0.92" fill="#161616"/>
<circle cx="218.57" cy="825.05" r="0.92" fill="#161616"/>
<circle cx="220.03" cy="824.72" r="0.92" fill="#161616"/>
<circle cx="221.58" cy="824.26" r="0.92" fill="#161616"/>
<circle cx="205.25" cy="821.66" r="0.92" fill="#161616"/>
<circle cx="206.79" cy="821.81" r="0.92" fill="#161616"/>
<circle cx="208.44" cy="822.33" r="0.92" fill="#161616"/>
<circle cx="209.81" cy="822.82" r="0.92" fill="#161616"/>
<circle cx="211.62" cy="823.18" r="0.92" fill="#161616"/>
<circle cx="212.91" cy="823.48" r="0.92" fill="#161616"/>
<circle cx="214.45" cy="823.74" r="0.92" fill="#161616"/>
<circle cx="216.28" cy="823.30" r="0.92" fill="#161616"/>
<circle cx="217.75" cy="823.12" r="0.92" fill="#161616"/>
<circle cx="219.37" cy="822.82" r="0.92" fill="#161616"/>
<circle cx="220.84" cy="822.35" r="0.92" fill="#161616"/>
<circle cx="222.41" cy="821.97" r="0.92" fill="#161616"/>
<circle cx="223.95" cy="821.56" r="0.92" fill="#161616"/>
<circle cx="209.25" cy="820.18" r="0.92" fill="#161616"/>
<circle cx="210.63" cy="820.39" r="0.92" fill="#161616"/>
<circle cx="212.36" cy="820.75" r="0.92" fill="#161616"/>
<circle cx="213.87" cy="821.57" r="0.92" fill="#161616"/>
<circle cx="215.47" cy="821.30" r="0.92" fill="#161616"/>
<circle cx="216.94" cy="821.12" r="0.92" fill="#161616"/>
<circle cx="218.42" cy="820.47" r="0.92" fill="#161616"/>
<circle cx="219.97" cy="820.16" r="0.92" fill="#161616"/>
<circle cx="208.27" cy="817.95" r="0.92" fill="#161616"/>
<circle cx="209.81" cy="818.15" r="0.92" fill="#161616"/>
<circle cx="211.59" cy="818.31" r="0.92" fill="#161616"/>
<circle cx="213.18" cy="818.93" r="0.92" fill="#161616"/>
<circle cx="214.45" cy="819.25" r="0.92" fill="#161616"/>
<circle cx="216.18" cy="818.84" r="0.92" fill="#161616"/>
<circle cx="217.84" cy="818.72" r="0.92" fill="#161616"/>
<circle cx="219.22" cy="818.11" r="0.92" fill="#161616"/>
<circle cx="220.84" cy="817.53" r="0.92" fill="#161616"/>
<circle cx="210.58" cy="815.79" r="0.92" fill="#161616"/>
<circle cx="212.16" cy="816.51" r="0.92" fill="#161616"/>
<circle cx="213.70" cy="817.04" r="0.92" fill="#161616"/>
<circle cx="215.26" cy="816.99" r="0.92" fill="#161616"/>
<circle cx="216.99" cy="816.18" r="0.92" fill="#161616"/>
<circle cx="218.55" cy="815.90" r="0.92" fill="#161616"/>
<circle cx="213.11" cy="814.47" r="0.92" fill="#161616"/>
<circle cx="214.67" cy="814.90" r="0.92" fill="#161616"/>
<circle cx="216.19" cy="814.12" r="0.92" fill="#161616"/>
<circle cx="212.98" cy="812.27" r="0.92" fill="#161616"/>
<circle cx="214.67" cy="812.67" r="0.92" fill="#161616"/>
<circle cx="216.00" cy="811.81" r="0.92" fill="#161616"/>
<circle cx="215.08" cy="768.55" r="0.95" fill="#161616"/>
<circle cx="215.62" cy="774.25" r="0.95" fill="#161616"/>
<circle cx="213.25" cy="775.20" r="0.95" fill="#161616"/>
<circle cx="214.00" cy="786.12" r="0.95" fill="#161616"/>
<circle cx="215.33" cy="788.50" r="0.95" fill="#161616"/>
<circle cx="213.53" cy="790.88" r="0.95" fill="#161616"/>
<circle cx="215.76" cy="794.67" r="0.95" fill="#161616"/>
<circle cx="214.56" cy="798.00" r="0.95" fill="#161616"/>
<circle cx="213.19" cy="801.33" r="0.95" fill="#161616"/>
<circle cx="214.18" cy="804.17" r="0.95" fill="#161616"/>
<circle cx="214.84" cy="807.50" r="0.95" fill="#161616"/>
<line x1="65.65" y1="828.4" x2="65.65" y2="852.625" stroke="#111" stroke-width="1.2"/>
<line x1="61.050000000000004" y1="828.4" x2="70.25" y2="828.4" stroke="#111" stroke-width="1.2"/>
<line x1="61.050000000000004" y1="852.625" x2="70.25" y2="852.625" stroke="#111" stroke-width="1.2"/>
<line x1="95.6" y1="811.775" x2="95.6" y2="843.125" stroke="#111" stroke-width="1.2"/>
<line x1="91.0" y1="811.775" x2="100.19999999999999" y2="811.775" stroke="#111" stroke-width="1.2"/>
<line x1="91.0" y1="843.125" x2="100.19999999999999" y2="843.125" stroke="#111" stroke-width="1.2"/>
<line x1="125.4" y1="810.1125" x2="125.4" y2="842.4125" stroke="#111" stroke-width="1.2"/>
<line x1="120.80000000000001" y1="810.1125" x2="130.0" y2="810.1125" stroke="#111" stroke-width="1.2"/>
<line x1="120.80000000000001" y1="842.4125" x2="130.0" y2="842.4125" stroke="#111" stroke-width="1.2"/>
<line x1="154.65" y1="824.6" x2="154.65" y2="852.15" stroke="#111" stroke-width="1.2"/>
<line x1="150.05" y1="824.6" x2="159.25" y2="824.6" stroke="#111" stroke-width="1.2"/>
<line x1="150.05" y1="852.15" x2="159.25" y2="852.15" stroke="#111" stroke-width="1.2"/>
<line x1="184.65" y1="826.975" x2="184.65" y2="847.875" stroke="#111" stroke-width="1.2"/>
<line x1="180.05" y1="826.975" x2="189.25" y2="826.975" stroke="#111" stroke-width="1.2"/>
<line x1="180.05" y1="847.875" x2="189.25" y2="847.875" stroke="#111" stroke-width="1.2"/>
<line x1="214.65" y1="812.0125" x2="214.65" y2="841.4625" stroke="#111" stroke-width="1.2"/>
<line x1="210.05" y1="812.0125" x2="219.25" y2="812.0125" stroke="#111" stroke-width="1.2"/>
<line x1="210.05" y1="841.4625" x2="219.25" y2="841.4625" stroke="#111" stroke-width="1.2"/>
<line x1="59.25" y1="734.5" x2="177" y2="734.5" stroke="#2a2a2a" stroke-width="1.1"/>
<text x="118" y="730" font-size="11.8" text-anchor="middle" fill="#1a1a1a">ns</text>
<line x1="59.25" y1="746.5" x2="156.75" y2="746.5" stroke="#2a2a2a" stroke-width="1.1"/>
<text x="108" y="742.7" font-size="11.8" text-anchor="middle" fill="#1a1a1a">ns</text>
<line x1="59.25" y1="755.5" x2="126.25" y2="755.5" stroke="#2a2a2a" stroke-width="1.1"/>
<text x="92.9515" y="753.5400000000001" font-size="8.6" text-anchor="middle" font-weight="bold" fill="#111" letter-spacing="0.90" style="stroke-width:0.3px">***</text>
<line x1="59.25" y1="768.5" x2="96.25" y2="768.5" stroke="#2a2a2a" stroke-width="1.1"/>
<text x="78.4515" y="766.5400000000001" font-size="8.6" text-anchor="middle" font-weight="bold" fill="#111" letter-spacing="0.90" style="stroke-width:0.3px">***</text>
<text x="65.5" y="879.3" font-size="9.2" text-anchor="middle" fill="#1a1a1a" style="stroke-width:0.12px">CTL</text>
<text x="93.7" y="879.3" font-size="9.2" text-anchor="middle" fill="#1a1a1a" style="stroke-width:0.12px">0082T</text>
<text x="126.3" y="879.3" font-size="9.2" text-anchor="middle" fill="#1a1a1a" style="stroke-width:0.12px">hPSC-T</text>
<text x="153.8" y="879.3" font-size="9.2" text-anchor="middle" fill="#1a1a1a" style="stroke-width:0.12px">MIA</text>
<text x="183.5" y="879.3" font-size="9.2" text-anchor="middle" fill="#1a1a1a" style="stroke-width:0.12px">PANC-1</text>
<text x="213.3" y="879.3" font-size="9.2" text-anchor="middle" fill="#1a1a1a" style="stroke-width:0.12px">10%</text>
<text x="213.3" y="890.8" font-size="9.2" text-anchor="middle" fill="#1a1a1a" style="stroke-width:0.12px">FBS</text>
<text x="155" y="895.5" font-size="10.8" text-anchor="middle" fill="#1a1a1a">PaCa2</text>
<line x1="85" y1="900.5" x2="210" y2="900.5" stroke="#222" stroke-width="1.1"/>
<text x="149.4" y="911.3" font-size="10.7" text-anchor="middle" fill="#1a1a1a">Conditioned media</text>
</g>
<g id="H">
<text x="374.15" y="687" font-size="12.3" text-anchor="middle" fill="#1a1a1a">KPC T832043</text>
<line x1="335.5" y1="688.5" x2="412.8" y2="688.5" stroke="#222" stroke-width="1.0"/>
<rect x="335.00" y="827.70" width="13.90" height="42.30" fill="#0b0b0b"/>
<rect x="356.25" y="784.13" width="14.50" height="85.87" fill="#0b0b0b"/>
<rect x="377.00" y="804.01" width="14.25" height="65.99" fill="#0b0b0b"/>
<rect x="398.75" y="799.78" width="14.25" height="70.22" fill="#0b0b0b"/>
<line x1="331.8" y1="742.6999999999999" x2="331.8" y2="870.9" stroke="#1f1f1f" stroke-width="1.8"/>
<line x1="328.59999999999997" y1="870.0" x2="331.8" y2="870.0" stroke="#1f1f1f" stroke-width="1.4"/>
<text x="324.1" y="874.3" font-size="12.5" text-anchor="end" fill="#1a1a1a">0</text>
<line x1="328.59999999999997" y1="827.7" x2="331.8" y2="827.7" stroke="#1f1f1f" stroke-width="1.4"/>
<text x="324.1" y="832.0" font-size="12.5" text-anchor="end" fill="#1a1a1a">1</text>
<line x1="328.59999999999997" y1="785.4" x2="331.8" y2="785.4" stroke="#1f1f1f" stroke-width="1.4"/>
<text x="324.1" y="789.6999999999999" font-size="12.5" text-anchor="end" fill="#1a1a1a">2</text>
<line x1="328.59999999999997" y1="743.1" x2="331.8" y2="743.1" stroke="#1f1f1f" stroke-width="1.4"/>
<text x="324.1" y="747.4" font-size="12.5" text-anchor="end" fill="#1a1a1a">3</text>
<line x1="330.90000000000003" y1="870" x2="416.3" y2="870" stroke="#1f1f1f" stroke-width="1.8"/>
<line x1="341.95" y1="870" x2="341.95" y2="873.4" stroke="#1f1f1f" stroke-width="1.3"/>
<line x1="363.5" y1="870" x2="363.5" y2="873.4" stroke="#1f1f1f" stroke-width="1.3"/>
<line x1="384.125" y1="870" x2="384.125" y2="873.4" stroke="#1f1f1f" stroke-width="1.3"/>
<line x1="405.875" y1="870" x2="405.875" y2="873.4" stroke="#1f1f1f" stroke-width="1.3"/>
<text transform="translate(308.2,811) rotate(-90)" font-size="11.9" text-anchor="middle" fill="#1a1a1a">Velocity (fold change)</text>
<circle cx="341.93" cy="853.50" r="0.8" fill="#c4c4c4"/>
<line x1="335.05" y1="847.96" x2="348.95" y2="847.96" stroke="#c9c9c9" stroke-width="1.7"/>
<line x1="335.05" y1="842.42" x2="348.95" y2="842.42" stroke="#c9c9c9" stroke-width="1.7"/>
<line x1="335.05" y1="836.88" x2="348.95" y2="836.88" stroke="#c9c9c9" stroke-width="1.7"/>
<line x1="335.05" y1="831.34" x2="348.95" y2="831.34" stroke="#c9c9c9" stroke-width="1.7"/>
<line x1="335.05" y1="825.8" x2="348.95" y2="825.8" stroke="#bcbcbc" stroke-width="1.5"/>
<line x1="335.5" y1="820.26" x2="348.5" y2="820.26" stroke="#bcbcbc" stroke-width="1.5"/>
<line x1="336.0" y1="814.72" x2="348.0" y2="814.72" stroke="#bcbcbc" stroke-width="1.5"/>
<line x1="339.5" y1="809.18" x2="344.5" y2="809.18" stroke="#bcbcbc" stroke-width="1.5"/>
<circle cx="342.21" cy="798.10" r="0.8" fill="#c0c0c0"/>
<line x1="361.5" y1="825.8" x2="365.5" y2="825.8" stroke="#c9c9c9" stroke-width="1.7"/>
<line x1="362.0" y1="820.26" x2="365.0" y2="820.26" stroke="#c9c9c9" stroke-width="1.7"/>
<line x1="356.25" y1="814.72" x2="370.75" y2="814.72" stroke="#c9c9c9" stroke-width="1.7"/>
<line x1="356.25" y1="809.18" x2="370.75" y2="809.18" stroke="#c9c9c9" stroke-width="1.7"/>
<line x1="356.25" y1="803.64" x2="370.75" y2="803.64" stroke="#c9c9c9" stroke-width="1.7"/>
<line x1="356.25" y1="798.1" x2="370.75" y2="798.1" stroke="#c9c9c9" stroke-width="1.7"/>
<line x1="356.25" y1="792.56" x2="370.75" y2="792.56" stroke="#c9c9c9" stroke-width="1.7"/>
<line x1="356.25" y1="787.02" x2="370.75" y2="787.02" stroke="#c9c9c9" stroke-width="1.7"/>
<line x1="357.0" y1="781.48" x2="370.0" y2="781.48" stroke="#bcbcbc" stroke-width="1.5"/>
<line x1="357.5" y1="775.94" x2="369.5" y2="775.94" stroke="#bcbcbc" stroke-width="1.5"/>
<line x1="356.5" y1="770.4" x2="370.5" y2="770.4" stroke="#bcbcbc" stroke-width="1.5"/>
<line x1="358.5" y1="764.86" x2="368.5" y2="764.86" stroke="#bcbcbc" stroke-width="1.5"/>
<line x1="359.0" y1="759.3199999999999" x2="368.0" y2="759.3199999999999" stroke="#bcbcbc" stroke-width="1.5"/>
<circle cx="363.07" cy="753.78" r="0.8" fill="#c0c0c0"/>
<circle cx="362.30" cy="748.24" r="0.75" fill="#c0c0c0"/>
<circle cx="364.70" cy="748.24" r="0.75" fill="#c0c0c0"/>
<circle cx="384.46" cy="836.88" r="0.8" fill="#c4c4c4"/>
<line x1="382.1" y1="831.34" x2="386.1" y2="831.34" stroke="#c9c9c9" stroke-width="1.7"/>
<line x1="380.1" y1="825.8" x2="388.1" y2="825.8" stroke="#c9c9c9" stroke-width="1.7"/>
<line x1="376.95000000000005" y1="820.26" x2="391.25" y2="820.26" stroke="#c9c9c9" stroke-width="1.7"/>
<line x1="376.95000000000005" y1="814.72" x2="391.25" y2="814.72" stroke="#c9c9c9" stroke-width="1.7"/>
<line x1="376.95000000000005" y1="809.18" x2="391.25" y2="809.18" stroke="#c9c9c9" stroke-width="1.7"/>
<line x1="376.95000000000005" y1="803.64" x2="391.25" y2="803.64" stroke="#bcbcbc" stroke-width="1.5"/>
<line x1="377.1" y1="798.1" x2="391.1" y2="798.1" stroke="#bcbcbc" stroke-width="1.5"/>
<line x1="377.1" y1="792.56" x2="391.1" y2="792.56" stroke="#bcbcbc" stroke-width="1.5"/>
<line x1="377.6" y1="787.02" x2="390.6" y2="787.02" stroke="#bcbcbc" stroke-width="1.5"/>
<line x1="379.1" y1="781.48" x2="389.1" y2="781.48" stroke="#bcbcbc" stroke-width="1.5"/>
<line x1="381.6" y1="775.94" x2="386.6" y2="775.94" stroke="#bcbcbc" stroke-width="1.5"/>
<line x1="380.1" y1="770.4" x2="388.1" y2="770.4" stroke="#bcbcbc" stroke-width="1.5"/>
<circle cx="383.94" cy="764.86" r="0.8" fill="#c0c0c0"/>
<line x1="382.1" y1="759.3199999999999" x2="386.1" y2="759.3199999999999" stroke="#bcbcbc" stroke-width="1.5"/>
<circle cx="406.07" cy="836.88" r="0.8" fill="#c4c4c4"/>
<line x1="403.9" y1="831.34" x2="407.9" y2="831.34" stroke="#c9c9c9" stroke-width="1.7"/>
<line x1="401.4" y1="825.8" x2="410.4" y2="825.8" stroke="#c9c9c9" stroke-width="1.7"/>
<line x1="398.75" y1="820.26" x2="413.04999999999995" y2="820.26" stroke="#c9c9c9" stroke-width="1.7"/>
<line x1="398.75" y1="814.72" x2="413.04999999999995" y2="814.72" stroke="#c9c9c9" stroke-width="1.7"/>
<line x1="398.75" y1="809.18" x2="413.04999999999995" y2="809.18" stroke="#c9c9c9" stroke-width="1.7"/>
<line x1="398.75" y1="803.64" x2="413.04999999999995" y2="803.64" stroke="#c9c9c9" stroke-width="1.7"/>
<line x1="398.9" y1="798.1" x2="412.9" y2="798.1" stroke="#bcbcbc" stroke-width="1.5"/>
<line x1="399.4" y1="792.56" x2="412.4" y2="792.56" stroke="#bcbcbc" stroke-width="1.5"/>
<line x1="399.4" y1="787.02" x2="412.4" y2="787.02" stroke="#bcbcbc" stroke-width="1.5"/>
<line x1="401.9" y1="781.48" x2="409.9" y2="781.48" stroke="#bcbcbc" stroke-width="1.5"/>
<line x1="400.4" y1="775.94" x2="411.4" y2="775.94" stroke="#bcbcbc" stroke-width="1.5"/>
<line x1="402.4" y1="770.4" x2="409.4" y2="770.4" stroke="#bcbcbc" stroke-width="1.5"/>
<line x1="403.9" y1="764.86" x2="407.9" y2="764.86" stroke="#bcbcbc" stroke-width="1.5"/>
<circle cx="406.06" cy="759.32" r="0.8" fill="#c0c0c0"/>
<circle cx="405.80" cy="753.78" r="0.8" fill="#c0c0c0"/>
<line x1="341.95" y1="826.2195" x2="341.95" y2="828.2" stroke="#0b0b0b" stroke-width="1.2"/>
<line x1="336.95" y1="826.2195" x2="346.95" y2="826.2195" stroke="#0b0b0b" stroke-width="1.3"/>
<line x1="363.5" y1="781.5930000000001" x2="363.5" y2="784.631" stroke="#0b0b0b" stroke-width="1.2"/>
<line x1="358.5" y1="781.5930000000001" x2="368.5" y2="781.5930000000001" stroke="#0b0b0b" stroke-width="1.3"/>
<line x1="384.125" y1="801.897" x2="384.125" y2="804.512" stroke="#0b0b0b" stroke-width="1.2"/>
<line x1="379.125" y1="801.897" x2="389.125" y2="801.897" stroke="#0b0b0b" stroke-width="1.3"/>
<line x1="405.875" y1="797.244" x2="405.875" y2="800.282" stroke="#0b0b0b" stroke-width="1.2"/>
<line x1="400.875" y1="797.244" x2="410.875" y2="797.244" stroke="#0b0b0b" stroke-width="1.3"/>
<line x1="336.25" y1="706.5" x2="403.3" y2="706.5" stroke="#2a2a2a" stroke-width="1.1"/>
<text x="369.9515" y="705.6400000000001" font-size="8.6" text-anchor="middle" font-weight="bold" fill="#111" letter-spacing="0.90" style="stroke-width:0.3px">***</text>
<line x1="336.25" y1="716.5" x2="382.5" y2="716.5" stroke="#2a2a2a" stroke-width="1.1"/>
<text x="359.7515" y="715.6400000000001" font-size="8.6" text-anchor="middle" font-weight="bold" fill="#111" letter-spacing="0.90" style="stroke-width:0.3px">***</text>
<line x1="336.25" y1="726.5" x2="366.3" y2="726.5" stroke="#2a2a2a" stroke-width="1.1"/>
<text x="351.7515" y="725.6400000000001" font-size="8.6" text-anchor="middle" font-weight="bold" fill="#111" letter-spacing="0.90" style="stroke-width:0.3px">***</text>
<line x1="363.75" y1="736.5" x2="404.5" y2="736.5" stroke="#2a2a2a" stroke-width="1.1"/>
<text x="384.2515" y="735.74" font-size="8.6" text-anchor="middle" font-weight="bold" fill="#111" letter-spacing="0.90" style="stroke-width:0.3px">***</text>
<line x1="363.75" y1="744.5" x2="385.8" y2="744.5" stroke="#2a2a2a" stroke-width="1.1"/>
<text x="374.9515" y="743.74" font-size="8.6" text-anchor="middle" font-weight="bold" fill="#111" letter-spacing="0.90" style="stroke-width:0.3px">***</text>
<text x="341.8" y="884.5" font-size="8.6" text-anchor="middle" fill="#1a1a1a" style="stroke-width:0.12px">CTL</text>
<text x="363" y="884.5" font-size="8.6" text-anchor="middle" fill="#1a1a1a" style="stroke-width:0.12px">CM</text>
<text x="384.3" y="884.5" font-size="8.6" text-anchor="middle" fill="#1a1a1a" style="stroke-width:0.12px">CM</text>
<text x="406.2" y="884.5" font-size="8.6" text-anchor="middle" fill="#1a1a1a" style="stroke-width:0.12px">CM</text>
<text x="378.5" y="896.3" font-size="8.6" text-anchor="middle" fill="#1a1a1a" style="stroke-width:0.12px">+LPARi</text>
<text x="410.8" y="896.3" font-size="8.6" text-anchor="middle" fill="#1a1a1a" style="stroke-width:0.12px">+ATXi</text>
</g>
</svg></body></html>
